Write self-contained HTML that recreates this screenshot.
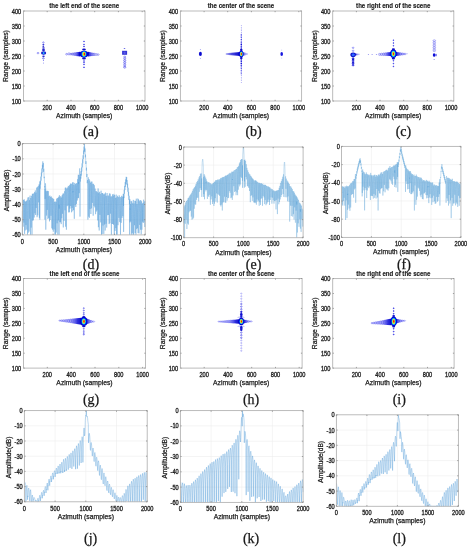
<!DOCTYPE html>
<html><head><meta charset="utf-8"><title>figure</title><style>html,body{margin:0;padding:0;background:#fff}svg{display:block}</style></head><body>
<svg width="471" height="550" viewBox="0 0 471 550">
<style>
.ax{fill:none;stroke:#b4b4b4;stroke-width:0.9}
.tk{fill:none;stroke:#8c8c8c;stroke-width:0.8}
.gr{stroke:#ededed;stroke-width:0.6}
.tl{font-family:"Liberation Sans",Arial,sans-serif;font-size:6.3px;fill:#1a1a1a;stroke:#222;stroke-width:0.3px}
.al{font-family:"Liberation Sans",Arial,sans-serif;font-size:6.8px;fill:#1a1a1a;stroke:#222;stroke-width:0.25px}
.ti{font-family:"Liberation Sans",Arial,sans-serif;font-size:7.1px;font-weight:bold;fill:#1a1a1a;stroke:#111;stroke-width:0.15px}
.lb{font-family:"Liberation Serif","Times New Roman",serif;font-size:14px;fill:#1a1a1a;stroke:#111;stroke-width:0.25px}
.ln{fill:none;stroke:#4f9bd6;stroke-width:0.38;stroke-linejoin:round}
.ln2{fill:none;stroke:#4a98d4;stroke-width:0.3;stroke-linejoin:round}
</style>
<rect width="471" height="550" fill="#fff"/>
<defs><filter id="soft" x="-20%" y="-20%" width="140%" height="140%"><feGaussianBlur stdDeviation="0.35"/></filter><linearGradient id="gD" x1="0" y1="0" x2="1" y2="0"><stop offset="0" stop-color="#4040e8" stop-opacity="0.45"/><stop offset="0.4" stop-color="#2020d8" stop-opacity="0.8"/><stop offset="1" stop-color="#0000c8" stop-opacity="1"/></linearGradient>
<linearGradient id="gL" x1="0" y1="0" x2="1" y2="0"><stop offset="0" stop-color="#5a5af0" stop-opacity="0.2"/><stop offset="0.55" stop-color="#3030e8" stop-opacity="0.4"/><stop offset="0.8" stop-color="#1414d8" stop-opacity="0.85"/><stop offset="1" stop-color="#0000c8" stop-opacity="1"/></linearGradient>
<linearGradient id="gR" x1="1" y1="0" x2="0" y2="0"><stop offset="0" stop-color="#5a5af0" stop-opacity="0.25"/><stop offset="0.5" stop-color="#3030e8" stop-opacity="0.5"/><stop offset="1" stop-color="#0000c8" stop-opacity="1"/></linearGradient></defs>
<g filter="url(#soft)">
<ellipse cx="43.4" cy="42.4" rx="0.80" ry="0.60" fill="none" stroke="#4848ee" stroke-width="0.5"/>
<ellipse cx="43.4" cy="44.4" rx="1.00" ry="0.75" fill="#3a3ad8"/>
<ellipse cx="43.3" cy="46.2" rx="0.90" ry="0.70" fill="#2a2ad0"/>
<ellipse cx="43.5" cy="48.0" rx="1.30" ry="0.80" fill="#2020cc"/>
<ellipse cx="43.5" cy="49.9" rx="1.60" ry="1.00" fill="#1c1cc8"/>
<ellipse cx="43.6" cy="53.0" rx="2.60" ry="1.70" fill="#1010cc"/>
<ellipse cx="43.6" cy="53.1" rx="1.00" ry="1.10" fill="#20b8ff"/>
<ellipse cx="38.0" cy="53.1" rx="0.90" ry="0.70" fill="none" stroke="#4848ee" stroke-width="0.5"/>
<ellipse cx="43.5" cy="56.3" rx="1.30" ry="0.80" fill="#2020cc"/>
<ellipse cx="43.4" cy="58.3" rx="0.90" ry="0.60" fill="none" stroke="#1818e0" stroke-width="0.5"/>
<ellipse cx="43.4" cy="60.3" rx="0.50" ry="0.45" fill="#1818e0"/>
<ellipse cx="43.4" cy="63.0" rx="0.45" ry="0.40" fill="#4848ee"/>
<ellipse cx="84.0" cy="41.4" rx="0.50" ry="0.45" fill="#1818e0" stroke="#1818e0" stroke-width="0.5"/>
<ellipse cx="84.0" cy="44.4" rx="0.50" ry="0.45" fill="#1818e0" stroke="#1818e0" stroke-width="0.5"/>
<ellipse cx="84.0" cy="46.5" rx="0.50" ry="0.45" fill="#1818e0" stroke="#1818e0" stroke-width="0.5"/>
<ellipse cx="84.0" cy="61.0" rx="0.50" ry="0.45" fill="#1818e0" stroke="#1818e0" stroke-width="0.5"/>
<ellipse cx="84.0" cy="62.6" rx="0.50" ry="0.45" fill="#1818e0" stroke="#1818e0" stroke-width="0.5"/>
<ellipse cx="84.0" cy="64.4" rx="0.50" ry="0.45" fill="#1818e0" stroke="#1818e0" stroke-width="0.5"/>
<ellipse cx="84.0" cy="67.3" rx="0.50" ry="0.45" fill="#1818e0" stroke="#1818e0" stroke-width="0.5"/>
<ellipse cx="66.6" cy="54.2" rx="0.90" ry="0.80" fill="none" stroke="#4848ee" stroke-width="0.5"/>
<ellipse cx="69.0" cy="53.9" rx="1.20" ry="1.00" fill="none" stroke="#4848ee" stroke-width="0.5"/>
<polygon points="70.5,53.2 80.0,51.8 80.0,56.4 70.5,55.0" fill="url(#gL)"/>
<ellipse cx="71.0" cy="54.1" rx="1.10" ry="0.90" fill="none" stroke="#1818e0" stroke-width="0.4" opacity="0.9"/>
<ellipse cx="73.0" cy="54.1" rx="1.10" ry="1.23" fill="none" stroke="#1818e0" stroke-width="0.4" opacity="0.9"/>
<ellipse cx="75.0" cy="54.1" rx="1.10" ry="1.57" fill="none" stroke="#1818e0" stroke-width="0.4" opacity="0.9"/>
<ellipse cx="77.0" cy="54.1" rx="1.10" ry="1.90" fill="none" stroke="#1818e0" stroke-width="0.4" opacity="0.9"/>
<polygon points="88.0,51.8 95.0,53.4 95.0,55.4 88.0,56.4" fill="url(#gR)"/>
<ellipse cx="90.0" cy="54.2" rx="1.10" ry="1.80" fill="none" stroke="#1818e0" stroke-width="0.4" opacity="0.9"/>
<ellipse cx="92.0" cy="54.3" rx="1.10" ry="1.55" fill="none" stroke="#1818e0" stroke-width="0.4" opacity="0.9"/>
<ellipse cx="94.0" cy="54.4" rx="1.10" ry="1.30" fill="none" stroke="#1818e0" stroke-width="0.4" opacity="0.9"/>
<ellipse cx="96.0" cy="54.5" rx="1.10" ry="1.05" fill="none" stroke="#1818e0" stroke-width="0.4" opacity="0.9"/>
<ellipse cx="98.0" cy="54.6" rx="1.10" ry="0.80" fill="none" stroke="#1818e0" stroke-width="0.4" opacity="0.9"/>
<ellipse cx="84.0" cy="49.5" rx="1.90" ry="0.90" fill="#0c0cc8"/>
<ellipse cx="84.0" cy="58.4" rx="1.90" ry="1.10" fill="#0c0cc8"/>
<ellipse cx="84.0" cy="54.1" rx="4.80" ry="3.40" fill="#0606d0"/>
<ellipse cx="84.0" cy="54.1" rx="2.60" ry="3.02" fill="#0060ff"/>
<ellipse cx="84.0" cy="54.1" rx="2.00" ry="2.70" fill="#10d0ff"/>
<ellipse cx="84.0" cy="54.1" rx="1.65" ry="2.35" fill="#80f080"/>
<ellipse cx="84.0" cy="54.1" rx="1.30" ry="2.00" fill="#f4ec10"/>
<ellipse cx="84.4" cy="54.1" rx="0.70" ry="1.50" fill="#f41c08"/>
<rect x="122.1" y="50.8" width="5" height="4" fill="#3434d4"/>
<ellipse cx="124.6" cy="52.8" rx="1.20" ry="1.20" fill="#5858e8"/>
<ellipse cx="124.5" cy="48.5" rx="1.00" ry="0.45" fill="#4a4ae0"/>
<ellipse cx="124.7" cy="57.0" rx="1.10" ry="0.80" fill="none" stroke="#3a3ae8" stroke-width="0.5"/>
<ellipse cx="124.7" cy="58.8" rx="1.10" ry="0.80" fill="none" stroke="#3a3ae8" stroke-width="0.5"/>
<ellipse cx="124.7" cy="60.6" rx="1.10" ry="0.80" fill="none" stroke="#3a3ae8" stroke-width="0.5"/>
<ellipse cx="124.7" cy="62.4" rx="1.10" ry="0.80" fill="none" stroke="#3a3ae8" stroke-width="0.5"/>
<ellipse cx="124.7" cy="64.2" rx="1.10" ry="0.80" fill="none" stroke="#3a3ae8" stroke-width="0.5"/>
<ellipse cx="124.7" cy="66.0" rx="1.10" ry="0.80" fill="none" stroke="#3a3ae8" stroke-width="0.5"/>
<ellipse cx="124.7" cy="67.4" rx="1.10" ry="0.80" fill="none" stroke="#3a3ae8" stroke-width="0.5"/>
</g>
<rect x="23.5" y="11" width="121.5" height="90" class="ax"/>
<path d="M47.2 101v-1.2M47.2 11v1.2" class="tk"/>
<text transform="translate(47.2 109.7) scale(0.9 1)" class="tl" text-anchor="middle">200</text>
<path d="M71 101v-1.2M71 11v1.2" class="tk"/>
<text transform="translate(71 109.7) scale(0.9 1)" class="tl" text-anchor="middle">400</text>
<path d="M94.7 101v-1.2M94.7 11v1.2" class="tk"/>
<text transform="translate(94.7 109.7) scale(0.9 1)" class="tl" text-anchor="middle">600</text>
<path d="M118.4 101v-1.2M118.4 11v1.2" class="tk"/>
<text transform="translate(118.4 109.7) scale(0.9 1)" class="tl" text-anchor="middle">800</text>
<path d="M142.2 101v-1.2M142.2 11v1.2" class="tk"/>
<text transform="translate(142.2 109.7) scale(0.9 1)" class="tl" text-anchor="middle">1000</text>
<path d="M23.5 101h1.2M145 101h-1.2" class="tk"/>
<text transform="translate(21.2 103.5) scale(0.9 1)" class="tl" text-anchor="end">100</text>
<path d="M23.5 86h1.2M145 86h-1.2" class="tk"/>
<text transform="translate(21.2 88.5) scale(0.9 1)" class="tl" text-anchor="end">150</text>
<path d="M23.5 71h1.2M145 71h-1.2" class="tk"/>
<text transform="translate(21.2 73.5) scale(0.9 1)" class="tl" text-anchor="end">200</text>
<path d="M23.5 56h1.2M145 56h-1.2" class="tk"/>
<text transform="translate(21.2 58.5) scale(0.9 1)" class="tl" text-anchor="end">250</text>
<path d="M23.5 41h1.2M145 41h-1.2" class="tk"/>
<text transform="translate(21.2 43.5) scale(0.9 1)" class="tl" text-anchor="end">300</text>
<path d="M23.5 26h1.2M145 26h-1.2" class="tk"/>
<text transform="translate(21.2 28.5) scale(0.9 1)" class="tl" text-anchor="end">350</text>
<path d="M23.5 11h1.2M145 11h-1.2" class="tk"/>
<text transform="translate(21.2 13.5) scale(0.9 1)" class="tl" text-anchor="end">400</text>
<text x="84.2" y="118" class="al" text-anchor="middle">Azimuth (samples)</text>
<text transform="translate(7.9 56) rotate(-90) scale(1.0 1)" class="al" text-anchor="middle">Range (samples)</text>
<text transform="translate(84.2 8.1) scale(0.86 1)" class="ti" text-anchor="middle">the left end of the scene</text>
<text x="90.8" y="135.8" class="lb" text-anchor="middle">(a)</text>
<g filter="url(#soft)">
<ellipse cx="200.4" cy="53.9" rx="1.50" ry="2.10" fill="#0c0cd0"/>
<ellipse cx="200.4" cy="49.4" rx="0.60" ry="0.40" fill="#7070f0"/>
<ellipse cx="200.4" cy="58.6" rx="0.60" ry="0.40" fill="#7070f0"/>
<ellipse cx="241.3" cy="25.6" rx="0.50" ry="0.45" fill="#1818e0" opacity="0.6"/>
<ellipse cx="241.3" cy="27.3" rx="0.50" ry="0.45" fill="#1818e0" opacity="0.6"/>
<ellipse cx="241.3" cy="29.0" rx="0.50" ry="0.45" fill="#1818e0" opacity="0.6"/>
<ellipse cx="241.3" cy="30.8" rx="0.50" ry="0.45" fill="#1818e0" opacity="0.6"/>
<ellipse cx="241.3" cy="32.5" rx="0.50" ry="0.45" fill="#1818e0" opacity="0.6"/>
<ellipse cx="241.3" cy="34.2" rx="0.65" ry="0.55" fill="#1818e0" opacity="0.9"/>
<ellipse cx="241.3" cy="35.9" rx="0.65" ry="0.55" fill="#1818e0" opacity="0.9"/>
<ellipse cx="241.3" cy="37.6" rx="0.65" ry="0.55" fill="#1818e0" opacity="0.9"/>
<ellipse cx="241.3" cy="39.4" rx="0.65" ry="0.55" fill="#1818e0" opacity="0.9"/>
<ellipse cx="241.3" cy="41.1" rx="0.65" ry="0.55" fill="#1818e0" opacity="0.9"/>
<ellipse cx="241.3" cy="42.8" rx="0.80" ry="0.65" fill="#1010d8"/>
<ellipse cx="241.3" cy="44.5" rx="0.80" ry="0.65" fill="#1010d8"/>
<ellipse cx="241.3" cy="46.2" rx="0.80" ry="0.65" fill="#1010d8"/>
<ellipse cx="241.3" cy="48.0" rx="0.80" ry="0.65" fill="#1010d8"/>
<ellipse cx="241.3" cy="49.7" rx="0.80" ry="0.65" fill="#1010d8"/>
<ellipse cx="241.3" cy="58.3" rx="0.80" ry="0.65" fill="#1010d8"/>
<ellipse cx="241.3" cy="60.0" rx="0.80" ry="0.65" fill="#1010d8"/>
<ellipse cx="241.3" cy="61.7" rx="0.80" ry="0.65" fill="#1010d8"/>
<ellipse cx="241.3" cy="63.4" rx="0.80" ry="0.65" fill="#1010d8"/>
<ellipse cx="241.3" cy="65.2" rx="0.80" ry="0.65" fill="#1010d8"/>
<ellipse cx="241.3" cy="66.9" rx="0.65" ry="0.55" fill="#1818e0" opacity="0.9"/>
<ellipse cx="241.3" cy="68.6" rx="0.65" ry="0.55" fill="#1818e0" opacity="0.9"/>
<ellipse cx="241.3" cy="70.3" rx="0.65" ry="0.55" fill="#1818e0" opacity="0.9"/>
<ellipse cx="241.3" cy="72.0" rx="0.65" ry="0.55" fill="#1818e0" opacity="0.9"/>
<ellipse cx="241.3" cy="73.8" rx="0.65" ry="0.55" fill="#1818e0" opacity="0.9"/>
<ellipse cx="241.3" cy="75.5" rx="0.50" ry="0.45" fill="#1818e0" opacity="0.6"/>
<ellipse cx="241.3" cy="77.2" rx="0.50" ry="0.45" fill="#1818e0" opacity="0.6"/>
<ellipse cx="241.3" cy="78.9" rx="0.50" ry="0.45" fill="#1818e0" opacity="0.6"/>
<ellipse cx="241.3" cy="80.6" rx="0.50" ry="0.45" fill="#1818e0" opacity="0.6"/>
<ellipse cx="241.3" cy="82.4" rx="0.50" ry="0.45" fill="#1818e0" opacity="0.6"/>
<polygon points="225.8,53.2 240.0,52.1 240.0,55.9 225.8,54.8" fill="url(#gD)"/>
<polygon points="242.0,52.1 248.0,53.3 248.0,54.7 242.0,55.9" fill="url(#gR)"/>
<ellipse cx="241.3" cy="50.0" rx="1.20" ry="1.30" fill="#0c0cc8"/>
<ellipse cx="241.3" cy="58.0" rx="1.20" ry="1.30" fill="#0c0cc8"/>
<ellipse cx="241.3" cy="54.0" rx="2.20" ry="3.20" fill="#0606d0"/>
<ellipse cx="241.3" cy="54.0" rx="1.56" ry="2.46" fill="#0060ff"/>
<ellipse cx="241.3" cy="54.0" rx="1.20" ry="2.20" fill="#10d0ff"/>
<ellipse cx="241.3" cy="54.0" rx="1.05" ry="2.00" fill="#80f080"/>
<ellipse cx="241.3" cy="54.0" rx="0.90" ry="1.80" fill="#f4ec10"/>
<ellipse cx="241.5" cy="54.0" rx="0.55" ry="1.00" fill="#f41c08"/>
<ellipse cx="281.7" cy="54.0" rx="1.30" ry="2.10" fill="#1616e0"/>
<ellipse cx="281.7" cy="50.0" rx="0.50" ry="0.35" fill="#7070f0"/>
<ellipse cx="281.7" cy="58.0" rx="0.50" ry="0.35" fill="#7070f0"/>
</g>
<rect x="180.4" y="11" width="121.2" height="90" class="ax"/>
<path d="M204.1 101v-1.2M204.1 11v1.2" class="tk"/>
<text transform="translate(204.1 109.7) scale(0.9 1)" class="tl" text-anchor="middle">200</text>
<path d="M227.7 101v-1.2M227.7 11v1.2" class="tk"/>
<text transform="translate(227.7 109.7) scale(0.9 1)" class="tl" text-anchor="middle">400</text>
<path d="M251.4 101v-1.2M251.4 11v1.2" class="tk"/>
<text transform="translate(251.4 109.7) scale(0.9 1)" class="tl" text-anchor="middle">600</text>
<path d="M275.1 101v-1.2M275.1 11v1.2" class="tk"/>
<text transform="translate(275.1 109.7) scale(0.9 1)" class="tl" text-anchor="middle">800</text>
<path d="M298.8 101v-1.2M298.8 11v1.2" class="tk"/>
<text transform="translate(298.8 109.7) scale(0.9 1)" class="tl" text-anchor="middle">1000</text>
<path d="M180.4 101h1.2M301.6 101h-1.2" class="tk"/>
<text transform="translate(178.1 103.5) scale(0.9 1)" class="tl" text-anchor="end">100</text>
<path d="M180.4 86h1.2M301.6 86h-1.2" class="tk"/>
<text transform="translate(178.1 88.5) scale(0.9 1)" class="tl" text-anchor="end">150</text>
<path d="M180.4 71h1.2M301.6 71h-1.2" class="tk"/>
<text transform="translate(178.1 73.5) scale(0.9 1)" class="tl" text-anchor="end">200</text>
<path d="M180.4 56h1.2M301.6 56h-1.2" class="tk"/>
<text transform="translate(178.1 58.5) scale(0.9 1)" class="tl" text-anchor="end">250</text>
<path d="M180.4 41h1.2M301.6 41h-1.2" class="tk"/>
<text transform="translate(178.1 43.5) scale(0.9 1)" class="tl" text-anchor="end">300</text>
<path d="M180.4 26h1.2M301.6 26h-1.2" class="tk"/>
<text transform="translate(178.1 28.5) scale(0.9 1)" class="tl" text-anchor="end">350</text>
<path d="M180.4 11h1.2M301.6 11h-1.2" class="tk"/>
<text transform="translate(178.1 13.5) scale(0.9 1)" class="tl" text-anchor="end">400</text>
<text x="241" y="118" class="al" text-anchor="middle">Azimuth (samples)</text>
<text transform="translate(164.8 56) rotate(-90) scale(1.0 1)" class="al" text-anchor="middle">Range (samples)</text>
<text transform="translate(241 8.1) scale(0.86 1)" class="ti" text-anchor="middle">the center of the scene</text>
<text x="253.6" y="135.8" class="lb" text-anchor="middle">(b)</text>
<g filter="url(#soft)">
<ellipse cx="353.1" cy="47.8" rx="0.90" ry="0.60" fill="none" stroke="#4848ee" stroke-width="0.5"/>
<ellipse cx="353.1" cy="50.8" rx="0.90" ry="0.60" fill="none" stroke="#4848ee" stroke-width="0.5"/>
<ellipse cx="353.1" cy="58.4" rx="1.00" ry="0.75" fill="#5050e4" stroke="#2020d8" stroke-width="0.5"/>
<ellipse cx="353.1" cy="60.2" rx="1.00" ry="0.75" fill="#5050e4" stroke="#2020d8" stroke-width="0.5"/>
<ellipse cx="353.1" cy="62.0" rx="1.00" ry="0.75" fill="#5050e4" stroke="#2020d8" stroke-width="0.5"/>
<ellipse cx="353.1" cy="63.7" rx="1.00" ry="0.75" fill="#5050e4" stroke="#2020d8" stroke-width="0.5"/>
<ellipse cx="353.1" cy="65.2" rx="1.00" ry="0.75" fill="#5050e4" stroke="#2020d8" stroke-width="0.5"/>
<ellipse cx="353.1" cy="59.3" rx="1.20" ry="0.90" fill="#1818d0"/>
<ellipse cx="353.1" cy="62.6" rx="1.10" ry="0.90" fill="#2020d0"/>
<polygon points="355.0,53.5 359.8,53.8 359.8,55.0 355.0,55.5" fill="url(#gR)"/>
<ellipse cx="353.1" cy="54.8" rx="2.70" ry="2.40" fill="#0c0cc8"/>
<ellipse cx="353.2" cy="54.8" rx="1.60" ry="1.50" fill="#2a64ff"/>
<ellipse cx="368.3" cy="54.7" rx="0.45" ry="0.40" fill="#1818e0"/>
<ellipse cx="372.1" cy="54.7" rx="0.45" ry="0.40" fill="#1818e0"/>
<ellipse cx="376.3" cy="54.7" rx="0.45" ry="0.40" fill="#1818e0"/>
<polygon points="379.0,53.4 391.0,51.9 391.0,56.1 379.0,55.4" fill="url(#gL)"/>
<ellipse cx="379.5" cy="54.4" rx="1.17" ry="1.00" fill="none" stroke="#4848ee" stroke-width="0.4" opacity="0.9"/>
<ellipse cx="381.6" cy="54.3" rx="1.17" ry="1.18" fill="none" stroke="#4848ee" stroke-width="0.4" opacity="0.9"/>
<ellipse cx="383.8" cy="54.2" rx="1.17" ry="1.35" fill="none" stroke="#4848ee" stroke-width="0.4" opacity="0.9"/>
<ellipse cx="385.9" cy="54.2" rx="1.17" ry="1.52" fill="none" stroke="#4848ee" stroke-width="0.4" opacity="0.9"/>
<ellipse cx="388.0" cy="54.1" rx="1.17" ry="1.70" fill="none" stroke="#4848ee" stroke-width="0.4" opacity="0.9"/>
<polygon points="396.0,52.0 405.5,53.3 405.5,54.7 396.0,56.0" fill="url(#gR)"/>
<ellipse cx="398.0" cy="54.0" rx="1.28" ry="1.50" fill="none" stroke="#4848ee" stroke-width="0.4" opacity="0.9"/>
<ellipse cx="400.3" cy="54.0" rx="1.28" ry="1.23" fill="none" stroke="#4848ee" stroke-width="0.4" opacity="0.9"/>
<ellipse cx="402.7" cy="54.0" rx="1.28" ry="0.97" fill="none" stroke="#4848ee" stroke-width="0.4" opacity="0.9"/>
<ellipse cx="405.0" cy="54.0" rx="1.28" ry="0.70" fill="none" stroke="#4848ee" stroke-width="0.4" opacity="0.9"/>
<ellipse cx="407.0" cy="53.8" rx="0.45" ry="0.35" fill="#1818e0"/>
<ellipse cx="393.4" cy="40.2" rx="0.45" ry="0.40" fill="#1818e0" stroke="#1818e0" stroke-width="0.5"/>
<ellipse cx="393.4" cy="43.0" rx="0.45" ry="0.40" fill="#1818e0" stroke="#1818e0" stroke-width="0.5"/>
<ellipse cx="393.4" cy="45.8" rx="0.45" ry="0.40" fill="#1818e0" stroke="#1818e0" stroke-width="0.5"/>
<ellipse cx="393.4" cy="60.8" rx="0.45" ry="0.40" fill="#1818e0" stroke="#1818e0" stroke-width="0.5"/>
<ellipse cx="393.4" cy="63.6" rx="0.45" ry="0.40" fill="#1818e0" stroke="#1818e0" stroke-width="0.5"/>
<ellipse cx="393.4" cy="66.4" rx="0.45" ry="0.40" fill="#1818e0" stroke="#1818e0" stroke-width="0.5"/>
<ellipse cx="393.4" cy="49.2" rx="1.60" ry="1.00" fill="#0c0cc8"/>
<ellipse cx="393.4" cy="58.6" rx="1.60" ry="1.00" fill="#0c0cc8"/>
<ellipse cx="393.4" cy="53.8" rx="3.20" ry="4.20" fill="#0606d0"/>
<ellipse cx="393.4" cy="53.8" rx="2.34" ry="3.25" fill="#0060ff"/>
<ellipse cx="393.4" cy="53.8" rx="1.80" ry="2.90" fill="#10d0ff"/>
<ellipse cx="393.4" cy="53.8" rx="1.50" ry="2.45" fill="#80f080"/>
<ellipse cx="393.4" cy="53.8" rx="1.20" ry="2.00" fill="#f4ec10"/>
<ellipse cx="393.5" cy="53.8" rx="0.60" ry="1.40" fill="#f41c08"/>
<ellipse cx="434.3" cy="40.6" rx="1.30" ry="0.80" fill="none" stroke="#7070f0" stroke-width="0.55"/>
<ellipse cx="434.3" cy="42.3" rx="1.30" ry="0.80" fill="none" stroke="#7070f0" stroke-width="0.55"/>
<ellipse cx="434.3" cy="44.0" rx="1.30" ry="0.80" fill="none" stroke="#7070f0" stroke-width="0.55"/>
<ellipse cx="434.3" cy="45.7" rx="1.30" ry="0.80" fill="none" stroke="#7070f0" stroke-width="0.55"/>
<ellipse cx="434.3" cy="47.4" rx="1.30" ry="0.80" fill="none" stroke="#7070f0" stroke-width="0.55"/>
<ellipse cx="434.3" cy="49.1" rx="1.30" ry="0.80" fill="none" stroke="#7070f0" stroke-width="0.55"/>
<ellipse cx="434.3" cy="50.8" rx="1.30" ry="0.80" fill="none" stroke="#7070f0" stroke-width="0.55"/>
<ellipse cx="434.1" cy="55.1" rx="1.30" ry="1.80" fill="#1010d8"/>
<ellipse cx="436.0" cy="55.1" rx="0.80" ry="1.40" fill="#6060e8"/>
<ellipse cx="434.1" cy="59.4" rx="0.50" ry="0.40" fill="#1818e0"/>
</g>
<rect x="332.7" y="11" width="121.1" height="90" class="ax"/>
<path d="M356.4 101v-1.2M356.4 11v1.2" class="tk"/>
<text transform="translate(356.4 109.7) scale(0.9 1)" class="tl" text-anchor="middle">200</text>
<path d="M380 101v-1.2M380 11v1.2" class="tk"/>
<text transform="translate(380 109.7) scale(0.9 1)" class="tl" text-anchor="middle">400</text>
<path d="M403.7 101v-1.2M403.7 11v1.2" class="tk"/>
<text transform="translate(403.7 109.7) scale(0.9 1)" class="tl" text-anchor="middle">600</text>
<path d="M427.3 101v-1.2M427.3 11v1.2" class="tk"/>
<text transform="translate(427.3 109.7) scale(0.9 1)" class="tl" text-anchor="middle">800</text>
<path d="M451 101v-1.2M451 11v1.2" class="tk"/>
<text transform="translate(451 109.7) scale(0.9 1)" class="tl" text-anchor="middle">1000</text>
<path d="M332.7 101h1.2M453.8 101h-1.2" class="tk"/>
<text transform="translate(330.4 103.5) scale(0.9 1)" class="tl" text-anchor="end">100</text>
<path d="M332.7 86h1.2M453.8 86h-1.2" class="tk"/>
<text transform="translate(330.4 88.5) scale(0.9 1)" class="tl" text-anchor="end">150</text>
<path d="M332.7 71h1.2M453.8 71h-1.2" class="tk"/>
<text transform="translate(330.4 73.5) scale(0.9 1)" class="tl" text-anchor="end">200</text>
<path d="M332.7 56h1.2M453.8 56h-1.2" class="tk"/>
<text transform="translate(330.4 58.5) scale(0.9 1)" class="tl" text-anchor="end">250</text>
<path d="M332.7 41h1.2M453.8 41h-1.2" class="tk"/>
<text transform="translate(330.4 43.5) scale(0.9 1)" class="tl" text-anchor="end">300</text>
<path d="M332.7 26h1.2M453.8 26h-1.2" class="tk"/>
<text transform="translate(330.4 28.5) scale(0.9 1)" class="tl" text-anchor="end">350</text>
<path d="M332.7 11h1.2M453.8 11h-1.2" class="tk"/>
<text transform="translate(330.4 13.5) scale(0.9 1)" class="tl" text-anchor="end">400</text>
<text x="393.2" y="118" class="al" text-anchor="middle">Azimuth (samples)</text>
<text transform="translate(317.1 56) rotate(-90) scale(1.0 1)" class="al" text-anchor="middle">Range (samples)</text>
<text transform="translate(393.2 8.1) scale(0.86 1)" class="ti" text-anchor="middle">the right end of the scene</text>
<text x="403.4" y="135.8" class="lb" text-anchor="middle">(c)</text>
<line x1="53.1" y1="143.6" x2="53.1" y2="234.9" class="gr"/>
<line x1="83.8" y1="143.6" x2="83.8" y2="234.9" class="gr"/>
<line x1="114.5" y1="143.6" x2="114.5" y2="234.9" class="gr"/>
<line x1="22.4" y1="158.8" x2="145.2" y2="158.8" class="gr"/>
<line x1="22.4" y1="174" x2="145.2" y2="174" class="gr"/>
<line x1="22.4" y1="189.2" x2="145.2" y2="189.2" class="gr"/>
<line x1="22.4" y1="204.5" x2="145.2" y2="204.5" class="gr"/>
<line x1="22.4" y1="219.7" x2="145.2" y2="219.7" class="gr"/>
<polyline points="22.4,211.2 22.4,234.9 22.5,213.7 22.6,203.2 22.8,200.3 22.9,203.0 23.1,213.3 23.2,226.7 23.3,209.3 23.4,202.0 23.5,199.9 23.7,201.8 23.8,209.1 23.9,222.6 24.0,207.5 24.1,201.1 24.2,199.3 24.4,201.0 24.5,207.3 24.6,233.9 24.7,212.5 24.8,203.5 25.0,201.0 25.1,203.3 25.3,212.3 25.3,230.4 25.4,211.9 25.5,204.0 25.6,201.9 25.8,203.9 25.9,211.7 26.0,225.1 26.1,209.5 26.3,202.9 26.4,201.1 26.6,202.8 26.7,209.4 26.7,229.6 26.8,210.3 26.9,202.2 27.1,199.9 27.2,202.1 27.3,210.2 27.5,234.9 27.6,210.8 27.7,200.4 27.9,197.5 28.0,200.3 28.2,210.6 28.3,232.7 28.4,209.6 28.6,199.8 28.7,197.2 28.9,199.8 29.0,209.5 29.1,231.5 29.2,211.2 29.3,202.6 29.4,200.1 29.6,202.3 29.7,218.8 29.7,210.8 29.8,203.9 29.9,197.5 30.1,195.6 30.2,197.1 30.3,203.4 30.5,234.9 30.6,211.4 30.7,200.9 30.8,198.0 31.0,200.6 31.1,210.8 31.2,227.6 31.3,207.0 31.4,198.3 31.5,195.8 31.7,198.0 31.8,206.7 32.0,234.9 32.1,207.0 32.2,196.5 32.4,193.7 32.5,196.4 32.6,220.6 32.6,206.7 32.7,203.3 32.8,196.0 33.0,194.0 33.1,195.8 33.3,203.1 33.4,220.3 33.5,202.8 33.7,195.4 33.8,193.3 33.9,195.2 34.1,202.6 34.2,217.5 34.3,201.3 34.4,194.2 34.6,192.1 34.7,193.8 34.9,200.6 34.9,213.3 35.0,198.7 35.1,192.4 35.3,190.4 35.4,191.9 35.6,198.0 35.6,215.0 35.7,200.7 35.8,194.5 36.0,192.6 36.1,194.0 36.2,208.0 36.3,200.1 36.3,195.1 36.5,189.4 36.6,187.7 36.8,188.9 36.9,194.4 37.1,217.2 37.2,197.9 37.3,189.6 37.4,187.1 37.6,189.0 37.7,197.2 37.8,215.3 37.9,196.5 38.1,188.4 38.2,186.0 38.4,187.9 38.5,195.8 38.6,202.4 38.7,191.0 38.8,186.0 39.0,184.4 39.1,185.4 39.3,190.3 39.4,217.8 39.5,195.2 39.7,185.0 39.8,181.4 39.8,219.7 39.9,184.7 40.1,188.7 40.4,180.6 40.6,184.7 40.9,176.6 41.1,180.6 41.4,172.5 41.6,176.6 41.9,168.5 42.1,172.7 42.4,164.8 42.6,169.1 42.8,161.4 43.1,167.5 43.3,163.0 43.6,171.8 43.8,168.7 44.1,178.2 44.3,176.7 44.6,187.4 44.8,186.2 44.9,219.7 45.0,188.7 45.1,199.1 45.2,187.3 45.3,183.4 45.5,183.4 45.6,185.7 45.8,190.3 45.8,229.7 45.9,202.3 46.0,193.0 46.1,190.8 46.3,193.9 46.4,204.5 46.6,215.6 46.7,199.4 46.8,192.9 46.9,191.3 47.1,193.4 47.2,200.1 47.3,209.9 47.3,197.1 47.5,192.0 47.6,190.8 47.8,192.5 47.9,197.8 47.9,219.0 48.0,200.4 48.2,192.9 48.3,191.1 48.5,193.5 48.6,201.2 48.7,218.1 48.8,203.4 48.9,197.5 49.1,196.2 49.2,198.1 49.4,204.2 49.5,221.4 49.6,204.4 49.7,197.4 49.9,195.6 50.0,197.6 50.2,204.7 50.2,220.0 50.3,204.8 50.5,198.5 50.6,196.9 50.8,198.7 50.9,205.1 51.0,215.8 51.1,203.1 51.2,197.8 51.4,196.5 51.5,198.0 51.6,203.3 51.8,228.3 51.9,208.2 52.0,199.9 52.2,197.8 52.3,200.3 52.4,208.7 52.5,229.6 52.6,209.0 52.7,200.5 52.9,198.4 53.0,200.9 53.1,209.5 53.3,231.7 53.4,210.1 53.5,201.2 53.7,199.0 53.8,201.6 54.0,210.6 54.1,229.4 54.2,211.2 54.3,203.7 54.5,201.8 54.6,203.7 54.8,211.2 54.9,234.9 54.9,213.5 55.1,204.1 55.2,201.5 55.4,203.9 55.5,213.2 55.6,234.9 55.7,215.2 55.8,204.7 56.0,201.8 56.1,204.5 56.2,232.5 56.2,214.8 56.3,210.6 56.5,201.3 56.6,198.7 56.8,201.1 56.9,210.3 57.1,223.3 57.1,207.0 57.3,200.1 57.4,198.1 57.6,199.9 57.7,206.7 57.8,234.9 57.9,211.1 58.0,200.6 58.2,197.7 58.3,200.4 58.4,220.4 58.4,210.7 58.5,205.1 58.6,198.6 58.8,196.7 58.9,198.4 59.1,234.9 59.1,204.8 59.2,208.6 59.3,198.1 59.4,195.2 59.6,197.9 59.7,208.2 59.8,222.2 59.9,206.1 60.0,199.2 60.1,197.3 60.3,199.0 60.4,205.8 60.5,222.3 60.6,205.3 60.7,198.0 60.8,196.0 61.0,197.8 61.1,205.0 61.2,224.1 61.3,206.9 61.4,199.6 61.6,197.5 61.7,199.4 61.8,218.3 61.8,206.6 61.9,203.4 62.1,197.1 62.2,195.1 62.4,196.6 62.5,213.8 62.5,202.8 62.6,201.0 62.7,195.5 62.8,193.7 63.0,195.0 63.1,200.4 63.3,227.4 63.4,205.6 63.5,196.3 63.6,193.5 63.8,195.8 63.9,205.0 64.1,220.9 64.2,201.9 64.3,193.7 64.5,191.3 64.6,193.2 64.7,201.2 64.9,210.3 65.0,195.8 65.1,189.5 65.3,187.7 65.4,189.1 65.6,195.3 65.6,226.7 65.7,201.2 65.8,190.6 65.9,187.6 66.1,190.2 66.2,200.4 66.4,229.7 66.5,202.1 66.6,191.5 66.8,188.5 66.9,191.1 67.1,201.4 67.2,206.2 67.3,194.2 67.4,189.0 67.6,187.5 67.7,188.7 67.8,193.8 68.0,205.4 68.1,192.9 68.2,187.5 68.3,185.9 68.5,187.2 68.6,192.4 68.7,212.4 68.8,195.7 68.9,188.5 69.1,186.4 69.2,188.1 69.3,195.2 69.4,212.2 69.4,194.7 69.6,187.2 69.7,185.0 69.9,187.0 70.0,194.4 70.0,208.6 70.1,192.5 70.2,185.7 70.4,183.8 70.5,185.6 70.7,206.0 70.7,192.3 70.7,191.3 70.9,185.1 71.0,183.4 71.2,185.0 71.3,191.2 71.5,212.3 71.6,193.9 71.7,186.2 71.8,184.0 72.0,186.0 72.1,193.8 72.2,207.9 72.3,191.3 72.4,184.3 72.6,182.4 72.7,184.2 72.8,211.3 72.9,191.1 72.9,192.4 73.1,184.4 73.2,182.3 73.4,184.5 73.5,192.5 73.6,210.0 73.7,193.5 73.8,186.7 73.9,184.9 74.1,186.8 74.2,193.7 74.3,218.8 74.4,195.3 74.6,185.5 74.7,182.9 74.9,185.6 75.0,195.5 75.2,205.2 75.3,191.4 75.4,185.6 75.5,184.2 75.7,185.8 75.8,207.0 75.8,191.6 75.9,191.6 76.0,185.2 76.2,183.5 76.3,185.3 76.4,191.7 76.5,203.9 76.5,191.3 76.7,185.3 76.8,183.1 77.0,184.0 77.1,189.4 77.3,200.5 77.4,187.5 77.5,181.4 77.6,179.2 77.8,180.1 77.9,198.3 77.9,185.7 78.0,183.8 78.1,177.2 78.3,174.7 78.4,175.8 78.5,197.9 78.6,182.0 78.6,183.9 78.8,177.4 78.9,175.0 79.1,176.1 79.2,182.2 79.3,193.2 79.4,177.8 79.5,170.9 79.7,168.4 79.8,169.7 80.0,176.2 80.0,216.6 80.1,177.1 80.4,181.6 80.6,174.0 80.9,178.6 81.1,171.0 81.3,175.6 81.6,167.4 81.8,171.5 82.1,163.4 82.3,167.4 82.6,159.3 82.8,163.4 83.1,155.3 83.3,159.1 83.6,150.6 83.8,154.3 84.0,146.6 84.3,151.2 84.5,143.6 84.8,152.1 85.0,148.5 85.3,157.4 85.5,154.6 85.8,164.0 86.0,161.2 86.3,170.5 86.5,167.7 86.7,177.1 87.0,174.0 87.2,183.2 87.5,180.1 87.7,188.6 87.9,219.7 87.9,201.1 88.0,185.1 88.2,178.8 88.3,177.3 88.4,179.2 88.6,185.8 88.7,216.7 88.8,191.9 88.9,181.6 89.1,179.0 89.2,182.0 89.4,192.3 89.4,217.8 89.5,193.2 89.6,183.0 89.7,180.5 89.9,183.4 90.0,193.6 90.1,209.1 90.2,191.7 90.4,184.5 90.5,182.7 90.7,184.8 90.8,192.1 90.9,214.0 91.0,192.5 91.1,183.7 91.2,181.6 91.4,184.2 91.5,193.1 91.6,208.4 91.7,190.6 91.8,183.3 92.0,181.6 92.1,183.8 92.2,191.2 92.4,202.9 92.5,190.1 92.6,184.9 92.8,183.7 92.9,185.3 93.0,190.7 93.2,215.7 93.3,194.6 93.4,186.0 93.6,183.9 93.7,186.5 93.8,195.3 94.0,205.9 94.1,192.0 94.2,186.4 94.3,185.2 94.5,187.0 94.6,192.7 94.8,207.4 94.9,194.8 95.0,189.7 95.2,188.6 95.3,190.2 95.5,195.5 95.6,214.2 95.7,198.9 95.8,192.8 95.9,191.2 96.1,192.9 96.2,199.3 96.3,211.6 96.4,198.2 96.5,192.7 96.7,191.3 96.8,192.8 97.0,198.4 97.0,210.4 97.1,198.4 97.3,193.5 97.4,192.3 97.6,193.7 97.7,198.7 97.7,220.4 97.8,199.4 98.0,190.7 98.1,188.4 98.3,190.9 98.4,199.7 98.4,227.2 98.5,204.6 98.6,195.3 98.8,192.8 98.9,195.4 99.0,204.9 99.2,230.5 99.3,204.9 99.4,194.6 99.6,191.8 99.7,194.7 99.8,205.2 99.9,214.9 99.9,201.2 100.1,195.5 100.2,194.0 100.4,195.6 100.5,201.4 100.7,222.4 100.8,201.6 100.9,193.0 101.1,190.7 101.2,193.1 101.3,201.8 101.5,234.9 101.6,206.2 101.7,195.8 101.9,193.0 102.0,195.9 102.2,206.3 102.2,234.0 102.3,206.2 102.4,195.8 102.6,193.0 102.7,195.9 102.8,206.3 103.0,225.5 103.1,205.1 103.2,196.6 103.4,194.3 103.5,196.7 103.7,205.2 103.8,233.9 103.9,206.7 104.0,196.3 104.2,193.5 104.3,196.4 104.5,224.5 104.5,206.8 104.5,204.8 104.7,196.6 104.8,194.4 105.0,196.6 105.1,204.9 105.2,230.5 105.2,205.7 105.4,195.3 105.5,192.6 105.7,195.4 105.8,205.8 106.0,223.8 106.1,205.5 106.2,197.8 106.3,195.8 106.5,197.9 106.6,205.6 106.7,227.6 106.8,204.9 107.0,195.5 107.1,193.0 107.2,195.6 107.4,205.1 107.6,215.2 107.7,202.3 107.8,197.0 107.9,195.6 108.1,197.1 108.2,202.4 108.4,215.0 108.5,202.3 108.6,196.9 108.7,195.6 108.9,197.0 109.0,202.4 109.1,224.1 109.1,204.0 109.3,195.6 109.4,193.4 109.6,195.7 109.7,204.1 109.9,223.2 109.9,203.9 110.1,195.8 110.2,193.7 110.4,195.9 110.5,204.0 110.6,213.7 110.7,202.5 110.8,197.8 110.9,196.6 111.1,197.9 111.2,202.6 111.4,234.9 111.4,209.5 111.6,199.1 111.7,196.3 111.9,199.2 112.0,209.6 112.1,224.0 112.2,204.6 112.4,196.4 112.5,194.3 112.7,196.5 112.8,204.6 112.8,224.0 112.9,205.5 113.0,197.7 113.2,195.6 113.3,197.7 113.4,205.5 113.5,224.7 113.6,204.6 113.7,196.2 113.9,193.9 114.0,196.2 114.1,204.6 114.3,234.9 114.3,208.2 114.5,197.8 114.6,195.0 114.8,197.9 114.9,208.3 115.1,230.9 115.2,209.3 115.3,200.2 115.5,197.8 115.6,200.2 115.7,209.3 115.8,228.1 115.9,206.2 116.0,197.0 116.2,194.6 116.3,197.1 116.5,206.3 116.5,234.9 116.6,210.4 116.7,200.0 116.9,197.3 117.0,200.1 117.1,210.4 117.2,234.9 117.3,209.0 117.4,198.6 117.6,195.8 117.7,198.6 117.9,209.1 118.0,225.2 118.1,206.8 118.3,199.1 118.4,197.1 118.6,199.1 118.7,206.8 118.9,217.9 118.9,203.1 119.1,196.9 119.2,195.3 119.4,197.0 119.5,203.2 119.7,222.1 119.8,205.6 119.9,198.8 120.1,196.9 120.2,198.8 120.4,205.7 120.5,234.9 120.6,210.4 120.8,200.0 120.9,197.3 121.1,200.1 121.2,210.4 121.2,222.8 121.3,205.5 121.5,198.0 121.6,195.8 121.8,197.6 121.9,204.9 122.0,218.1 122.1,204.4 122.2,198.4 122.4,196.6 122.5,198.0 122.6,203.8 122.8,216.2 122.9,202.4 123.1,196.2 123.2,193.9 123.4,195.0 123.5,205.9 123.5,200.9 123.6,196.8 123.6,231.9 123.7,193.8 124.0,197.9 124.2,189.8 124.4,193.8 124.7,185.9 124.9,190.1 125.2,182.1 125.4,186.8 125.7,179.4 125.9,184.2 126.2,176.8 126.4,181.6 126.7,177.1 126.9,184.7 127.1,180.1 127.4,187.7 127.6,183.7 127.9,191.8 128.1,187.7 128.4,195.8 128.6,191.8 128.9,199.9 129.1,195.8 129.4,204.2 129.6,200.1 129.6,234.9 129.8,199.0 129.9,201.6 130.0,222.4 130.1,208.6 130.1,209.5 130.3,204.7 130.4,204.1 130.6,205.4 130.7,221.5 130.7,210.4 130.8,208.1 130.9,202.5 131.1,200.9 131.2,202.4 131.3,208.0 131.4,234.9 131.5,214.7 131.6,204.2 131.8,201.4 131.9,204.1 132.1,214.5 132.2,233.0 132.3,213.7 132.4,205.5 132.5,203.3 132.7,205.4 132.8,213.6 133.0,234.9 133.1,213.2 133.2,202.8 133.3,199.9 133.5,202.7 133.6,213.0 133.7,234.9 133.8,216.7 133.9,206.2 134.0,203.4 134.2,206.1 134.3,216.5 134.5,225.2 134.6,209.3 134.7,202.6 134.8,200.8 135.0,202.6 135.1,209.3 135.2,233.0 135.3,212.0 135.5,203.2 135.6,200.9 135.7,203.2 135.9,212.0 135.9,234.9 136.0,211.9 136.1,201.5 136.3,198.7 136.4,201.5 136.6,211.9 136.7,229.1 136.7,212.7 136.9,205.8 137.0,204.0 137.2,205.8 137.3,212.7 137.4,228.2 137.5,208.8 137.7,200.6 137.8,198.5 138.0,200.6 138.1,208.8 138.1,233.1 138.2,211.1 138.4,201.9 138.5,199.4 138.6,201.9 138.8,211.1 139.0,233.4 139.0,212.4 139.2,203.6 139.3,201.2 139.5,203.6 139.6,212.4 139.7,224.9 139.8,208.7 140.0,201.9 140.1,200.0 140.2,201.9 140.4,208.7 140.5,229.7 140.6,210.6 140.7,202.6 140.9,200.4 141.0,202.6 141.2,210.6 141.2,234.4 141.3,212.8 141.4,203.7 141.6,201.3 141.7,203.7 141.9,212.8 141.9,229.7 142.0,212.7 142.1,205.6 142.3,203.7 142.4,205.6 142.5,221.7 142.6,212.7 142.6,209.5 142.8,204.3 142.9,202.9 143.1,204.3 143.2,209.5 143.2,223.0 143.3,207.8 143.5,201.4 143.6,199.7 143.8,201.4 143.9,207.8 144.0,222.2 144.1,208.6 144.2,202.9 144.4,201.4 144.5,202.9 144.7,208.6 144.8,227.0 144.9,210.0 145.0,202.9 145.2,200.9" class="ln"/>
<rect x="22.4" y="143.6" width="122.8" height="91.3" class="ax"/>
<path d="M22.4 234.9v-1.2M22.4 143.6v1.2" class="tk"/>
<text transform="translate(22.4 243.6) scale(0.9 1)" class="tl" text-anchor="middle">0</text>
<path d="M53.1 234.9v-1.2M53.1 143.6v1.2" class="tk"/>
<text transform="translate(53.1 243.6) scale(0.9 1)" class="tl" text-anchor="middle">500</text>
<path d="M83.8 234.9v-1.2M83.8 143.6v1.2" class="tk"/>
<text transform="translate(83.8 243.6) scale(0.9 1)" class="tl" text-anchor="middle">1000</text>
<path d="M114.5 234.9v-1.2M114.5 143.6v1.2" class="tk"/>
<text transform="translate(114.5 243.6) scale(0.9 1)" class="tl" text-anchor="middle">1500</text>
<path d="M145.2 234.9v-1.2M145.2 143.6v1.2" class="tk"/>
<text transform="translate(145.2 243.6) scale(0.9 1)" class="tl" text-anchor="middle">2000</text>
<path d="M22.4 143.6h1.2M145.2 143.6h-1.2" class="tk"/>
<text transform="translate(20.7 146.1) scale(0.9 1)" class="tl" text-anchor="end">0</text>
<path d="M22.4 158.8h1.2M145.2 158.8h-1.2" class="tk"/>
<text transform="translate(20.7 161.3) scale(0.9 1)" class="tl" text-anchor="end">-10</text>
<path d="M22.4 174h1.2M145.2 174h-1.2" class="tk"/>
<text transform="translate(20.7 176.5) scale(0.9 1)" class="tl" text-anchor="end">-20</text>
<path d="M22.4 189.2h1.2M145.2 189.2h-1.2" class="tk"/>
<text transform="translate(20.7 191.8) scale(0.9 1)" class="tl" text-anchor="end">-30</text>
<path d="M22.4 204.5h1.2M145.2 204.5h-1.2" class="tk"/>
<text transform="translate(20.7 207) scale(0.9 1)" class="tl" text-anchor="end">-40</text>
<path d="M22.4 219.7h1.2M145.2 219.7h-1.2" class="tk"/>
<text transform="translate(20.7 222.2) scale(0.9 1)" class="tl" text-anchor="end">-50</text>
<path d="M22.4 234.9h1.2M145.2 234.9h-1.2" class="tk"/>
<text transform="translate(20.7 237.4) scale(0.9 1)" class="tl" text-anchor="end">-60</text>
<text x="83.8" y="251.9" class="al" text-anchor="middle">Azimuth (samples)</text>
<text transform="translate(9.1 190.4) rotate(-90) scale(0.97 1)" class="al" text-anchor="middle">Amplitude(dB)</text>
<text x="91" y="268.8" class="lb" text-anchor="middle">(d)</text>
<line x1="213.6" y1="147" x2="213.6" y2="237.7" class="gr"/>
<line x1="243.4" y1="147" x2="243.4" y2="237.7" class="gr"/>
<line x1="273.2" y1="147" x2="273.2" y2="237.7" class="gr"/>
<line x1="183.7" y1="165.1" x2="303.1" y2="165.1" class="gr"/>
<line x1="183.7" y1="183.3" x2="303.1" y2="183.3" class="gr"/>
<line x1="183.7" y1="201.4" x2="303.1" y2="201.4" class="gr"/>
<line x1="183.7" y1="219.6" x2="303.1" y2="219.6" class="gr"/>
<polyline points="183.8,214.3 183.8,223.1 183.9,212.5 184.1,207.8 184.2,206.3 184.3,207.3 184.5,211.8 184.6,237.7 184.7,213.3 184.9,206.9 185.0,204.9 185.2,206.3 185.3,212.2 185.3,223.8 185.4,210.3 185.5,204.4 185.7,202.5 185.8,203.8 185.9,209.6 186.1,219.7 186.2,207.8 186.3,202.6 186.5,201.0 186.6,202.1 186.8,207.1 186.9,229.0 187.0,208.2 187.1,201.8 187.3,199.8 187.4,201.3 187.6,207.3 187.7,223.5 187.8,206.4 188.0,200.0 188.1,198.1 188.2,199.5 188.4,205.5 188.4,224.6 188.5,205.8 188.6,199.4 188.8,197.6 188.9,199.0 189.0,205.0 189.1,212.3 189.1,202.1 189.3,197.7 189.4,196.3 189.6,197.3 189.7,201.6 189.9,211.0 190.0,200.8 190.1,196.4 190.2,195.0 190.4,196.0 190.5,200.3 190.5,210.6 190.6,199.9 190.8,195.3 190.9,193.9 191.0,194.8 191.2,199.3 191.3,216.6 191.4,201.1 191.5,194.6 191.7,192.7 191.8,194.1 191.9,200.0 192.0,219.8 192.1,199.2 192.3,192.7 192.4,190.8 192.5,192.1 192.7,198.1 192.9,218.9 192.9,197.5 193.1,191.1 193.2,189.1 193.4,190.5 193.5,196.4 193.6,217.7 193.7,196.3 193.8,189.8 194.0,187.9 194.1,189.3 194.2,195.2 194.3,208.7 194.4,194.9 194.6,189.0 194.7,187.1 194.8,188.4 195.0,194.2 195.0,204.3 195.1,192.5 195.3,187.3 195.4,185.7 195.5,186.8 195.7,191.8 195.7,204.7 195.8,191.5 195.9,185.7 196.0,183.9 196.2,185.2 196.3,190.8 196.5,199.8 196.6,188.6 196.7,183.7 196.8,182.1 197.0,183.1 197.1,197.8 197.1,187.9 197.2,187.1 197.3,182.4 197.5,180.9 197.6,181.8 197.7,186.4 197.9,197.7 198.0,186.1 198.1,180.9 198.2,179.3 198.4,180.3 198.5,185.3 198.7,201.4 198.7,186.0 198.9,179.5 199.0,177.4 199.2,178.8 199.3,184.6 199.4,191.8 199.5,181.9 199.6,177.5 199.7,176.0 199.9,176.8 200.0,181.0 200.1,188.2 200.2,179.2 200.3,175.2 200.4,173.8 200.6,174.6 200.7,178.5 200.9,190.0 201.0,179.5 201.1,174.9 201.2,173.4 201.4,174.4 201.5,178.8 201.6,190.1 201.7,178.4 201.8,196.9 202.0,167.2 202.2,162.2 202.5,159.7 202.7,159.1 202.9,159.7 203.1,162.2 203.4,167.2 203.6,196.9 203.7,176.8 203.8,194.1 203.9,180.5 204.0,175.2 204.2,174.1 204.3,175.9 204.5,181.5 204.5,199.3 204.6,182.9 204.7,177.0 204.8,175.6 205.0,177.6 205.1,184.1 205.3,189.8 205.4,181.4 205.5,178.2 205.7,177.6 205.8,178.8 205.9,191.4 205.9,182.3 206.0,183.1 206.1,180.0 206.3,179.4 206.4,180.6 206.5,184.0 206.6,189.9 206.7,183.7 206.8,181.4 207.0,181.1 207.1,182.0 207.2,184.5 207.4,199.0 207.5,187.9 207.6,183.4 207.8,182.2 207.9,183.5 208.0,188.1 208.2,195.7 208.3,186.9 208.4,183.3 208.5,182.4 208.7,183.4 208.8,187.1 208.8,197.0 208.9,187.4 209.1,183.4 209.2,182.4 209.3,183.6 209.5,187.6 209.7,194.8 209.7,187.1 209.9,183.9 210.0,183.2 210.2,184.1 210.3,187.3 210.4,204.8 210.4,190.7 210.6,184.9 210.7,183.4 210.9,185.1 211.0,190.9 211.2,199.4 211.2,189.5 211.4,185.5 211.5,184.5 211.7,185.6 211.8,196.4 211.8,189.7 211.9,188.4 212.0,184.9 212.1,183.9 212.3,184.7 212.4,188.1 212.5,204.0 212.6,190.6 212.8,184.9 212.9,183.3 213.0,184.7 213.2,201.7 213.2,190.3 213.2,189.6 213.4,184.4 213.5,182.9 213.7,184.2 213.8,189.3 213.9,206.0 214.0,190.0 214.1,183.7 214.3,181.9 214.4,183.5 214.5,189.6 214.5,203.7 214.6,189.5 214.8,183.4 214.9,181.7 215.1,183.2 215.2,189.2 215.2,198.1 215.3,186.7 215.4,181.8 215.6,180.4 215.7,181.6 215.9,186.4 215.9,201.6 216.0,187.7 216.1,181.8 216.3,180.1 216.4,181.6 216.6,187.4 216.6,193.4 216.7,184.9 216.8,181.3 217.0,180.3 217.1,181.2 217.3,184.7 217.3,202.6 217.4,187.6 217.5,181.3 217.6,179.6 217.8,181.2 217.9,187.3 218.1,194.1 218.2,184.7 218.3,180.7 218.4,179.6 218.6,180.6 218.7,184.5 218.9,195.0 219.0,184.9 219.1,180.6 219.3,179.4 219.4,180.4 219.5,184.7 219.6,195.9 219.6,185.2 219.8,180.7 219.9,179.4 220.1,180.5 220.2,185.1 220.3,205.0 220.4,186.3 220.5,180.0 220.6,178.3 220.8,179.9 220.9,206.4 220.9,186.0 221.0,185.9 221.1,179.7 221.2,177.9 221.4,179.5 221.5,185.7 221.7,204.7 221.7,185.7 221.9,179.4 222.0,177.7 222.2,179.3 222.3,185.4 222.3,210.5 222.4,185.2 222.5,179.0 222.7,177.2 222.8,178.8 222.9,185.0 223.0,202.7 223.1,184.9 223.2,178.7 223.3,176.9 223.5,178.5 223.6,184.7 223.7,201.9 223.8,185.1 223.9,178.8 224.1,177.1 224.2,178.6 224.3,184.8 224.5,196.7 224.6,183.4 224.7,177.8 224.8,176.2 225.0,177.7 225.1,183.3 225.1,202.5 225.2,183.7 225.4,177.4 225.5,175.7 225.6,177.3 225.8,183.4 225.8,202.8 225.9,183.7 226.1,177.4 226.2,175.6 226.3,177.2 226.5,183.3 226.5,197.0 226.6,183.0 226.7,177.1 226.9,175.4 227.0,176.9 227.1,182.8 227.1,200.7 227.2,182.9 227.3,176.7 227.5,174.9 227.6,176.5 227.8,182.6 227.9,198.2 227.9,182.4 228.1,176.1 228.2,174.4 228.4,175.9 228.5,182.1 228.6,197.8 228.7,181.7 228.8,175.4 229.0,173.7 229.1,175.2 229.3,181.4 229.4,191.1 229.5,179.3 229.6,174.3 229.8,172.9 229.9,174.1 230.0,179.1 230.1,192.8 230.2,180.3 230.3,175.0 230.5,173.5 230.6,174.8 230.8,180.1 230.9,198.2 231.0,180.4 231.1,174.1 231.3,172.4 231.4,174.0 231.5,180.1 231.7,197.5 231.8,179.4 231.9,173.1 232.1,171.4 232.2,173.0 232.3,199.9 232.4,179.1 232.4,180.0 232.6,173.8 232.7,172.0 232.8,173.6 233.0,179.7 233.1,195.5 233.2,179.4 233.3,173.1 233.5,171.4 233.6,173.0 233.7,179.1 233.8,186.2 233.9,175.9 234.0,171.5 234.2,170.3 234.3,171.4 234.5,175.7 234.6,192.0 234.7,177.8 234.8,171.8 235.0,170.0 235.1,171.5 235.2,177.4 235.4,191.2 235.5,177.1 235.6,171.1 235.8,169.3 235.9,170.8 236.0,176.7 236.1,195.2 236.2,177.0 236.3,170.7 236.5,168.9 236.6,170.4 236.8,176.4 236.9,192.4 237.0,175.5 237.1,169.2 237.3,167.3 237.4,168.8 237.5,174.9 237.6,195.2 237.7,175.1 237.9,168.7 238.0,166.9 238.1,168.4 238.3,174.5 238.3,189.7 238.4,174.2 238.5,167.9 238.7,165.9 238.8,167.2 239.0,173.0 239.0,184.3 239.1,171.1 239.2,165.3 239.4,163.4 239.5,164.5 239.6,170.1 239.7,186.4 239.8,170.6 239.9,164.1 240.1,162.0 240.2,163.3 240.3,169.1 240.3,184.5 240.4,168.6 240.5,162.1 240.7,160.0 240.8,161.3 241.0,167.2 241.0,176.9 241.1,165.4 241.2,160.4 241.4,159.0 241.5,160.1 241.6,165.0 241.7,178.0 241.8,165.9 241.9,160.7 242.1,159.2 242.2,160.4 242.3,165.5 242.4,180.7 242.5,165.3 242.5,187.8 242.7,155.2 243.0,150.2 243.2,147.6 243.4,147.0 243.6,147.6 243.8,150.2 244.1,155.2 244.3,187.8 244.3,160.0 244.4,164.1 244.5,181.4 244.6,166.9 244.7,161.0 244.9,159.6 245.0,161.3 245.1,167.4 245.2,186.8 245.3,168.2 245.4,162.1 245.6,160.9 245.7,163.2 245.8,170.0 246.0,177.0 246.0,167.9 246.2,164.5 246.3,164.2 246.5,165.7 246.6,169.5 246.6,179.4 246.7,171.1 246.8,168.1 247.0,167.9 247.1,169.3 247.3,172.7 247.4,186.0 247.4,174.9 247.6,170.9 247.7,170.3 247.9,172.1 248.0,176.6 248.1,186.6 248.2,177.0 248.4,173.1 248.5,172.3 248.6,173.5 248.8,177.5 248.8,188.0 248.9,178.4 249.0,174.5 249.2,173.7 249.3,174.9 249.4,178.9 249.5,191.0 249.6,179.9 249.8,175.5 249.9,174.4 250.0,175.8 250.2,180.4 250.3,202.2 250.4,183.3 250.5,177.3 250.6,175.8 250.8,177.7 250.9,184.0 251.0,196.0 251.1,183.1 251.3,177.9 251.4,176.6 251.5,178.2 251.7,195.1 251.7,183.6 251.8,183.6 251.9,178.9 252.0,177.8 252.2,179.3 252.3,184.1 252.3,200.9 252.4,186.0 252.5,180.0 252.7,178.6 252.8,180.3 252.9,186.4 253.0,197.4 253.1,185.5 253.2,180.6 253.3,179.3 253.5,180.7 253.6,185.7 253.7,202.4 253.8,187.9 253.9,181.9 254.1,180.3 254.2,182.0 254.4,188.1 254.5,202.5 254.6,188.1 254.7,182.1 254.9,180.6 255.0,182.3 255.1,203.2 255.1,188.3 255.2,188.1 255.3,182.0 255.5,180.4 255.6,182.2 255.8,188.5 255.8,202.4 255.8,188.1 256.0,182.1 256.1,180.6 256.3,182.3 256.4,188.3 256.4,204.7 256.5,189.0 256.6,182.9 256.8,181.3 256.9,183.0 257.1,189.3 257.1,199.4 257.2,187.9 257.3,183.2 257.4,182.0 257.6,183.3 257.7,188.2 257.9,201.6 258.0,189.3 258.1,184.1 258.2,182.8 258.4,184.3 258.5,189.4 258.5,200.5 258.6,188.7 258.8,183.8 258.9,182.5 259.0,183.8 259.2,188.8 259.2,205.8 259.3,190.8 259.4,184.7 259.5,183.1 259.7,184.8 259.8,202.2 259.8,191.0 259.9,189.9 260.0,184.8 260.2,183.5 260.3,184.9 260.4,190.0 260.5,204.9 260.6,190.6 260.7,184.6 260.9,183.1 261.0,184.7 261.1,198.9 261.1,190.7 261.2,188.6 261.3,184.4 261.5,183.3 261.6,184.4 261.8,188.7 261.8,198.1 261.9,188.9 262.0,185.0 262.1,184.0 262.3,185.1 262.4,189.0 262.5,205.8 262.6,191.3 262.7,185.2 262.9,183.6 263.0,185.3 263.1,191.4 263.2,195.9 263.3,188.7 263.4,185.8 263.6,185.0 263.7,185.9 263.8,188.9 264.0,197.4 264.0,189.2 264.2,185.8 264.3,184.9 264.5,185.9 264.6,189.3 264.6,204.1 264.7,191.3 264.8,186.1 265.0,184.7 265.1,186.2 265.2,191.5 265.2,200.1 265.3,190.2 265.5,186.1 265.6,185.0 265.8,186.2 265.9,190.4 266.0,205.2 266.1,192.5 266.3,187.3 266.4,185.9 266.5,187.4 266.7,192.7 266.8,203.9 266.8,192.1 267.0,187.2 267.1,186.0 267.3,187.4 267.4,192.3 267.5,202.3 267.6,192.0 267.7,187.8 267.9,186.7 268.0,187.9 268.1,192.2 268.2,199.6 268.3,191.0 268.5,187.4 268.6,186.5 268.7,187.6 268.9,191.1 268.9,202.0 269.0,192.2 269.1,188.1 269.2,187.2 269.4,188.4 269.5,192.5 269.5,205.0 269.6,193.4 269.7,188.6 269.9,187.4 270.0,188.8 270.2,193.7 270.3,200.0 270.4,192.2 270.5,189.1 270.7,188.4 270.8,189.3 271.0,192.5 271.1,197.4 271.2,191.7 271.4,189.4 271.5,188.9 271.7,189.6 271.8,192.0 271.9,203.7 272.0,194.0 272.1,190.1 272.3,189.1 272.4,190.3 272.5,197.7 272.6,194.3 272.6,192.7 272.8,190.8 272.9,190.3 273.0,191.0 273.2,193.0 273.2,200.2 273.3,193.7 273.4,191.1 273.6,190.5 273.7,191.4 273.9,194.0 274.0,203.6 274.1,195.0 274.2,191.5 274.3,190.7 274.5,191.7 274.6,195.2 274.6,201.0 274.7,194.8 274.9,192.2 275.0,191.4 275.1,192.1 275.3,194.7 275.3,200.6 275.4,194.3 275.6,191.6 275.7,190.9 275.8,191.6 276.0,194.2 276.0,209.4 276.1,197.2 276.2,192.1 276.4,190.7 276.5,192.0 276.6,197.1 276.7,200.2 276.8,193.9 276.9,191.2 277.1,190.5 277.2,191.2 277.3,193.8 277.4,214.1 277.5,198.1 277.6,191.9 277.8,190.2 277.9,191.8 278.0,198.0 278.1,198.6 278.2,193.6 278.3,191.1 278.5,190.1 278.6,190.3 278.7,192.5 278.8,204.3 278.9,194.1 279.0,189.5 279.2,187.9 279.3,188.7 279.4,193.0 279.5,202.1 279.6,192.1 279.7,187.5 279.8,185.9 280.0,186.7 280.1,191.0 280.2,199.4 280.3,189.2 280.4,184.5 280.5,182.9 280.7,183.7 280.8,188.1 281.0,197.1 281.0,187.2 281.2,182.6 281.3,181.1 281.5,181.8 281.6,186.1 281.7,195.1 281.8,185.2 281.9,180.8 282.1,179.2 282.2,180.0 282.3,184.2 282.4,189.0 282.5,181.5 282.6,178.0 282.7,176.8 282.9,177.3 283.0,180.5 283.1,194.0 283.2,181.6 283.3,176.1 283.5,174.3 283.6,175.5 283.7,184.6 283.8,196.9 283.9,170.1 284.1,165.1 284.3,162.6 284.5,162.0 284.7,162.6 284.8,165.1 285.0,170.1 285.2,196.9 285.2,197.2 285.3,183.1 285.4,177.5 285.6,176.4 285.7,178.4 285.8,184.2 286.0,188.9 286.1,181.7 286.2,179.1 286.4,178.7 286.5,179.7 286.7,182.6 286.8,197.3 286.9,186.0 287.0,181.5 287.2,180.6 287.3,182.0 287.5,186.7 287.5,201.3 287.6,188.1 287.7,182.8 287.9,181.6 288.0,183.3 288.1,188.8 288.2,196.4 288.3,187.2 288.4,183.6 288.5,182.8 288.7,184.0 288.8,187.9 289.0,201.8 289.1,189.9 289.2,185.1 289.3,184.0 289.5,185.5 289.6,190.5 289.7,221.6 289.8,193.3 289.9,187.4 290.1,186.0 290.2,187.9 290.3,194.3 290.5,205.7 290.6,192.9 290.7,187.8 290.9,186.6 291.0,188.3 291.1,193.5 291.3,216.1 291.3,195.3 291.5,189.3 291.6,187.8 291.8,189.7 291.9,196.2 292.0,205.8 292.1,194.7 292.2,190.2 292.4,189.2 292.5,190.6 292.7,195.3 292.7,216.6 292.8,198.5 292.9,192.5 293.1,191.0 293.2,192.9 293.4,199.4 293.4,214.2 293.5,198.9 293.6,192.9 293.8,191.5 293.9,193.4 294.0,199.7 294.1,219.7 294.2,200.2 294.3,194.2 294.4,192.8 294.6,194.7 294.7,201.1 294.7,207.3 294.8,198.6 294.9,195.1 295.1,194.4 295.2,195.5 295.3,199.2 295.4,222.7 295.5,202.8 295.6,196.8 295.8,195.4 295.9,197.3 296.1,203.7 296.1,210.6 296.1,200.9 296.3,197.0 296.4,196.2 296.6,197.5 296.7,237.7 296.7,201.5 296.8,204.5 296.9,198.6 297.0,197.2 297.2,199.2 297.3,205.6 297.4,232.5 297.5,205.9 297.6,200.0 297.7,198.6 297.9,200.6 298.0,207.0 298.2,223.3 298.3,207.2 298.4,201.3 298.5,199.9 298.7,201.9 298.8,208.3 299.0,226.8 299.1,209.9 299.2,204.0 299.3,202.6 299.5,204.6 299.6,211.0 299.8,219.3 299.8,208.5 300.0,204.1 300.1,203.2 300.3,204.7 300.4,228.6 300.4,209.2 300.5,211.7 300.6,205.8 300.7,204.4 300.9,206.3 301.0,212.8 301.1,231.9 301.2,213.0 301.3,207.1 301.5,205.7 301.6,207.7 301.7,214.2 301.9,219.2 302.0,211.8 302.1,209.1 302.2,208.7 302.4,209.8 302.5,212.8 302.7,226.6 302.8,215.1 302.9,210.5 303.0,209.7" class="ln2"/>
<rect x="183.7" y="147" width="119.4" height="90.7" class="ax"/>
<path d="M183.7 237.7v-1.2M183.7 147v1.2" class="tk"/>
<text transform="translate(183.7 246.4) scale(0.9 1)" class="tl" text-anchor="middle">0</text>
<path d="M213.6 237.7v-1.2M213.6 147v1.2" class="tk"/>
<text transform="translate(213.6 246.4) scale(0.9 1)" class="tl" text-anchor="middle">500</text>
<path d="M243.4 237.7v-1.2M243.4 147v1.2" class="tk"/>
<text transform="translate(243.4 246.4) scale(0.9 1)" class="tl" text-anchor="middle">1000</text>
<path d="M273.2 237.7v-1.2M273.2 147v1.2" class="tk"/>
<text transform="translate(273.2 246.4) scale(0.9 1)" class="tl" text-anchor="middle">1500</text>
<path d="M303.1 237.7v-1.2M303.1 147v1.2" class="tk"/>
<text transform="translate(303.1 246.4) scale(0.9 1)" class="tl" text-anchor="middle">2000</text>
<path d="M183.7 147h1.2M303.1 147h-1.2" class="tk"/>
<text transform="translate(182 149.5) scale(0.9 1)" class="tl" text-anchor="end">0</text>
<path d="M183.7 165.1h1.2M303.1 165.1h-1.2" class="tk"/>
<text transform="translate(182 167.6) scale(0.9 1)" class="tl" text-anchor="end">-20</text>
<path d="M183.7 183.3h1.2M303.1 183.3h-1.2" class="tk"/>
<text transform="translate(182 185.8) scale(0.9 1)" class="tl" text-anchor="end">-40</text>
<path d="M183.7 201.4h1.2M303.1 201.4h-1.2" class="tk"/>
<text transform="translate(182 203.9) scale(0.9 1)" class="tl" text-anchor="end">-60</text>
<path d="M183.7 219.6h1.2M303.1 219.6h-1.2" class="tk"/>
<text transform="translate(182 222.1) scale(0.9 1)" class="tl" text-anchor="end">-80</text>
<path d="M183.7 237.7h1.2M303.1 237.7h-1.2" class="tk"/>
<text transform="translate(182 240.2) scale(0.9 1)" class="tl" text-anchor="end">-100</text>
<text x="243.4" y="254.7" class="al" text-anchor="middle">Azimuth (samples)</text>
<text transform="translate(170.4 193.5) rotate(-90) scale(0.97 1)" class="al" text-anchor="middle">Amplitude(dB)</text>
<text x="253.6" y="268.8" class="lb" text-anchor="middle">(e)</text>
<line x1="371.4" y1="146.4" x2="371.4" y2="237.4" class="gr"/>
<line x1="401.2" y1="146.4" x2="401.2" y2="237.4" class="gr"/>
<line x1="431" y1="146.4" x2="431" y2="237.4" class="gr"/>
<line x1="341.5" y1="164.6" x2="460.9" y2="164.6" class="gr"/>
<line x1="341.5" y1="182.8" x2="460.9" y2="182.8" class="gr"/>
<line x1="341.5" y1="201" x2="460.9" y2="201" class="gr"/>
<line x1="341.5" y1="219.2" x2="460.9" y2="219.2" class="gr"/>
<polyline points="341.6,187.6 341.8,186.4 341.9,187.6 342.0,204.7 342.0,192.3 342.1,192.8 342.2,187.8 342.4,186.4 342.5,187.8 342.7,192.8 342.8,205.7 342.9,193.3 343.0,188.1 343.2,186.7 343.3,188.1 343.5,201.1 343.5,193.3 343.5,191.8 343.7,187.9 343.8,186.8 344.0,187.9 344.1,191.8 344.2,197.8 344.3,191.2 344.4,188.5 344.5,187.8 344.7,188.5 344.8,191.2 344.8,205.6 344.9,192.9 345.1,187.6 345.2,186.1 345.3,187.6 345.5,192.9 345.6,220.0 345.7,195.0 345.8,188.8 346.0,187.1 346.1,188.8 346.2,195.0 346.2,200.3 346.3,190.8 346.5,186.7 346.6,185.7 346.7,186.7 346.9,190.8 347.0,218.1 347.1,193.9 347.2,187.6 347.3,186.0 347.5,187.6 347.6,209.8 347.6,193.8 347.7,195.0 347.8,188.7 348.0,186.9 348.1,188.5 348.2,194.6 348.4,204.7 348.4,192.7 348.6,187.5 348.7,186.0 348.9,187.3 349.0,192.4 349.1,208.5 349.2,193.4 349.3,187.0 349.5,185.2 349.6,186.8 349.8,192.9 349.9,210.8 350.0,191.9 350.2,185.6 350.3,183.8 350.4,185.4 350.6,191.5 350.7,207.5 350.8,191.1 350.9,184.8 351.0,183.0 351.2,184.5 351.3,190.6 351.4,194.9 351.5,187.2 351.6,183.8 351.7,182.8 351.9,183.5 352.0,186.8 352.2,194.1 352.3,186.0 352.4,182.5 352.5,181.4 352.7,182.1 352.8,185.6 352.9,194.1 353.0,185.8 353.1,182.2 353.3,181.1 353.4,181.9 353.6,185.4 353.6,197.7 353.7,185.8 353.8,180.7 354.0,179.2 354.1,180.4 354.2,185.4 354.3,189.4 354.4,183.2 354.5,180.2 354.6,179.0 354.8,179.3 354.9,182.0 355.1,188.4 355.1,179.7 355.3,175.6 355.4,174.1 355.6,174.7 355.7,178.4 355.7,202.8 355.8,198.0 355.8,176.4 356.1,178.7 356.3,173.8 356.5,176.1 356.8,171.1 357.0,173.5 357.3,168.6 357.5,171.3 357.7,166.6 358.0,169.3 358.2,164.6 358.5,167.3 358.7,162.8 358.9,165.5 359.2,161.0 359.4,163.7 359.6,159.4 359.9,162.5 360.1,158.2 360.4,163.0 360.6,160.4 360.8,165.4 361.1,163.5 361.3,168.8 361.6,166.9 361.8,172.3 362.0,170.5 362.2,196.4 362.3,173.0 362.3,192.9 362.4,176.4 362.6,170.6 362.7,169.4 362.8,171.5 363.0,178.1 363.1,186.7 363.1,176.3 363.3,172.3 363.4,171.6 363.6,173.1 363.7,177.1 363.9,190.4 364.0,178.4 364.1,173.5 364.2,172.2 364.4,173.6 364.5,178.6 364.6,210.4 364.7,181.4 364.8,175.2 364.9,173.6 365.1,175.4 365.2,187.9 365.2,181.6 365.3,179.0 365.4,175.3 365.6,174.4 365.7,175.4 365.8,179.1 366.0,189.9 366.1,178.4 366.2,173.6 366.3,172.4 366.5,173.7 366.6,178.6 366.7,198.0 366.8,181.7 366.9,175.5 367.0,173.9 367.2,175.6 367.3,181.9 367.4,190.5 367.5,180.0 367.6,175.6 367.8,174.4 367.9,175.6 368.0,186.8 368.0,180.0 368.1,178.9 368.2,175.6 368.4,174.8 368.5,175.7 368.7,179.0 368.8,188.1 368.9,179.7 369.0,176.2 369.2,175.3 369.3,176.2 369.5,179.8 369.6,186.3 369.6,178.7 369.8,175.5 369.9,174.6 370.1,175.5 370.2,178.7 370.4,200.0 370.4,180.8 370.6,174.6 370.7,172.9 370.9,174.6 371.0,180.9 371.0,195.9 371.1,182.6 371.3,177.0 371.4,175.5 371.5,177.0 371.7,182.6 371.7,195.8 371.8,182.2 371.9,176.6 372.1,175.0 372.2,176.6 372.4,182.3 372.5,196.1 372.5,183.1 372.7,177.7 372.8,176.2 373.0,177.7 373.1,183.1 373.3,198.6 373.4,183.3 373.5,177.1 373.6,175.4 373.8,177.1 373.9,183.4 373.9,193.9 374.0,181.4 374.2,176.2 374.3,174.8 374.4,176.2 374.6,181.4 374.7,197.9 374.8,182.8 374.9,176.5 375.1,174.8 375.2,176.4 375.3,182.6 375.4,195.3 375.5,183.2 375.6,178.1 375.7,176.7 375.9,178.0 376.0,183.1 376.1,198.5 376.2,183.1 376.3,176.8 376.5,175.1 376.6,176.7 376.7,182.9 376.8,189.0 376.9,180.2 377.0,176.5 377.1,175.4 377.3,176.4 377.4,180.1 377.5,197.5 377.5,183.7 377.7,177.9 377.8,176.3 378.0,177.8 378.1,183.6 378.1,210.5 378.2,182.7 378.3,176.4 378.4,174.7 378.6,176.3 378.7,182.5 378.7,190.8 378.8,180.1 379.0,175.6 379.1,174.4 379.2,175.5 379.4,180.0 379.4,193.2 379.5,181.7 379.6,176.8 379.7,175.4 379.9,176.7 380.0,181.5 380.1,193.6 380.2,180.6 380.3,175.1 380.4,173.6 380.6,175.0 380.7,180.4 380.7,189.2 380.8,178.3 380.9,173.7 381.1,172.4 381.2,173.5 381.4,178.1 381.5,188.3 381.6,178.0 381.7,173.7 381.8,172.4 382.0,173.5 382.1,177.8 382.1,188.0 382.2,179.0 382.4,175.1 382.5,174.0 382.6,175.0 382.8,178.8 382.9,195.6 383.0,180.2 383.1,173.9 383.3,172.1 383.4,173.7 383.5,179.9 383.7,191.3 383.8,178.3 383.9,172.8 384.0,171.3 384.2,172.7 384.3,178.1 384.4,184.9 384.5,176.0 384.7,172.2 384.8,171.1 384.9,172.1 385.1,175.8 385.1,192.3 385.2,178.2 385.4,172.2 385.5,170.5 385.6,172.0 385.8,177.9 386.0,188.2 386.0,176.4 386.2,171.3 386.3,169.9 386.5,171.1 386.6,176.1 386.7,189.3 386.8,176.7 386.9,171.3 387.0,169.7 387.2,171.1 387.3,176.4 387.3,189.5 387.4,177.4 387.5,172.2 387.7,170.7 387.8,172.0 387.9,177.1 388.1,190.6 388.2,176.1 388.3,169.9 388.4,168.2 388.6,169.7 388.7,175.8 388.8,188.2 388.9,174.9 389.0,169.2 389.1,167.6 389.3,169.0 389.4,174.6 389.6,179.3 389.7,170.8 389.8,167.1 389.9,166.0 390.1,166.9 390.2,170.5 390.3,179.7 390.4,172.3 390.5,169.0 390.6,168.1 390.8,168.8 390.9,172.0 391.0,181.4 391.1,172.1 391.2,168.2 391.4,167.1 391.5,168.1 391.6,172.0 391.8,183.8 391.9,172.9 392.0,168.3 392.2,167.0 392.3,168.2 392.4,172.8 392.6,184.9 392.7,172.8 392.8,167.7 393.0,166.3 393.1,167.7 393.2,172.7 393.3,176.7 393.4,169.3 393.5,166.2 393.7,165.4 393.8,166.1 394.0,169.2 394.1,179.1 394.2,170.5 394.3,166.8 394.4,165.8 394.6,166.8 394.7,187.0 394.7,170.4 394.8,172.7 394.9,166.6 395.0,164.9 395.2,166.5 395.3,172.5 395.4,184.7 395.5,171.6 395.6,166.0 395.7,164.5 395.9,165.9 396.0,171.4 396.1,187.6 396.2,172.5 396.3,166.1 396.4,164.1 396.6,165.4 396.7,171.4 396.8,179.4 396.9,168.7 397.1,163.9 397.2,162.3 397.3,163.2 397.5,167.8 397.6,176.9 397.6,166.7 397.8,162.2 397.8,191.9 397.9,164.6 398.2,167.0 398.4,162.2 398.6,164.6 398.9,159.6 399.1,161.6 399.3,156.2 399.6,158.2 399.8,152.9 400.1,154.9 400.3,149.6 400.5,151.7 400.8,146.4 401.0,151.3 401.3,148.8 401.5,153.7 401.7,151.3 402.0,156.1 402.2,153.7 402.5,158.5 402.7,155.7 402.9,160.3 403.2,157.5 403.4,162.1 403.6,159.4 403.9,164.0 404.1,161.3 404.4,165.9 404.6,163.3 404.8,167.9 405.1,165.2 405.3,169.8 405.5,191.9 405.5,172.9 405.6,166.9 405.8,165.5 405.9,167.4 406.0,173.7 406.0,181.4 406.1,172.1 406.3,168.5 406.4,167.7 406.5,169.0 406.7,172.8 406.8,184.0 406.9,173.8 407.0,169.8 407.1,168.9 407.3,170.3 407.4,174.5 407.6,189.3 407.6,176.2 407.8,170.9 407.9,169.5 408.1,171.1 408.2,176.6 408.2,183.9 408.3,175.0 408.4,171.4 408.6,170.5 408.7,171.6 408.8,175.3 408.9,189.0 409.0,177.4 409.1,172.6 409.2,171.4 409.4,172.8 409.5,192.8 409.5,177.7 409.6,178.5 409.7,172.6 409.9,171.1 410.0,172.8 410.1,178.8 410.2,183.1 410.3,175.3 410.4,172.2 410.5,171.4 410.7,172.4 410.8,175.6 410.8,194.1 410.9,180.3 411.0,174.6 411.2,173.2 411.3,174.8 411.4,180.6 411.5,194.1 411.6,180.9 411.7,175.5 411.8,174.2 412.0,175.7 412.1,192.1 412.1,181.2 412.2,180.2 412.3,175.3 412.5,174.1 412.6,175.5 412.7,180.5 412.8,193.4 412.9,181.4 413.0,176.5 413.2,175.3 413.3,176.7 413.4,181.7 413.6,191.3 413.7,180.2 413.8,175.6 414.0,174.5 414.1,175.8 414.2,180.4 414.4,210.5 414.5,183.6 414.6,177.4 414.8,175.8 414.9,177.6 415.0,183.8 415.1,185.5 415.2,179.2 415.4,176.6 415.5,176.0 415.6,176.8 415.8,179.4 415.9,204.8 416.0,182.3 416.2,176.2 416.3,174.6 416.4,176.3 416.6,182.6 416.6,199.8 416.7,183.7 416.8,177.6 417.0,176.0 417.1,177.7 417.3,184.0 417.4,196.6 417.5,183.7 417.6,178.4 417.8,177.0 417.9,178.5 418.0,183.9 418.1,187.6 418.2,180.8 418.3,178.0 418.4,177.3 418.6,178.1 418.7,181.0 418.8,188.5 418.9,180.9 419.1,177.8 419.2,177.0 419.3,177.9 419.5,181.1 419.5,190.9 419.6,182.6 419.7,179.2 419.9,178.4 420.0,179.4 420.2,182.8 420.3,195.4 420.4,183.6 420.5,178.7 420.6,177.5 420.8,178.8 420.9,183.8 421.0,197.2 421.1,184.5 421.2,179.2 421.4,177.8 421.5,179.3 421.6,184.6 421.7,194.5 421.8,184.4 422.0,180.2 422.1,179.2 422.2,180.4 422.4,184.6 422.4,199.0 422.5,186.8 422.6,181.8 422.8,180.5 422.9,181.9 423.0,187.0 423.2,199.3 423.2,186.8 423.4,181.6 423.5,180.2 423.7,181.7 423.8,187.0 423.8,193.5 423.9,184.8 424.0,181.2 424.2,180.3 424.3,181.3 424.5,184.9 424.5,193.2 424.6,185.0 424.7,181.6 424.9,180.7 425.0,181.7 425.2,185.1 425.2,192.1 425.3,185.0 425.4,182.0 425.6,181.3 425.7,182.1 425.9,185.1 426.0,195.1 426.0,185.1 426.2,181.0 426.3,179.9 426.5,181.1 426.6,185.2 426.7,198.3 426.8,186.6 427.0,181.8 427.1,180.5 427.2,181.8 427.4,186.7 427.4,195.2 427.5,185.8 427.6,182.0 427.8,181.0 427.9,182.1 428.0,198.0 428.0,186.0 428.1,187.4 428.2,183.0 428.4,181.9 428.5,183.1 428.7,187.5 428.8,203.1 428.8,188.4 429.0,182.3 429.1,180.7 429.3,182.4 429.4,197.5 429.4,188.5 429.5,187.2 429.6,182.9 429.7,181.8 429.9,183.1 430.0,187.4 430.1,194.2 430.1,186.4 430.3,183.2 430.4,182.4 430.6,183.3 430.7,186.6 430.9,198.2 430.9,188.1 431.1,183.9 431.2,182.8 431.4,184.1 431.5,188.3 431.7,204.9 431.7,190.0 431.9,183.9 432.0,182.3 432.2,184.1 432.3,190.3 432.3,197.7 432.4,187.7 432.5,183.6 432.7,182.6 432.8,183.8 433.0,187.9 433.0,202.2 433.0,191.2 433.2,186.6 433.3,185.5 433.5,186.8 433.6,191.4 433.7,195.7 433.8,188.2 433.9,185.0 434.1,184.3 434.2,185.2 434.4,188.3 434.5,201.4 434.6,190.6 434.7,186.1 434.9,184.9 435.0,186.2 435.1,190.7 435.2,203.9 435.3,191.9 435.4,187.0 435.5,185.7 435.7,187.1 435.8,192.1 435.9,203.3 436.0,191.4 436.2,186.4 436.3,185.2 436.4,186.6 436.6,191.6 436.7,196.9 436.8,189.4 436.9,186.3 437.0,185.5 437.2,186.4 437.3,189.5 437.4,201.8 437.5,191.4 437.6,187.2 437.7,186.1 437.9,187.0 438.0,200.8 438.0,191.2 438.1,191.4 438.2,187.3 438.4,186.0 438.5,186.8 438.6,190.8 438.7,196.9 438.8,188.7 439.0,184.5 439.1,182.6 439.2,182.8 439.4,186.4 439.4,194.2 439.5,185.5 439.6,181.0 439.7,179.1 439.9,179.3 439.9,205.6 440.0,182.8 440.2,183.5 440.5,177.0 440.7,177.7 441.0,171.2 441.2,171.9 441.4,166.6 441.7,168.6 441.9,164.1 442.2,169.4 442.4,167.3 442.6,171.9 442.9,169.3 443.1,173.9 443.3,171.2 443.6,175.8 443.8,173.2 444.1,177.8 444.3,175.1 444.5,179.7 444.8,177.0 445.0,181.6 445.3,179.0 445.5,183.6 445.7,180.9 446.0,185.5 446.1,202.8 446.2,196.0 446.3,182.7 446.4,177.3 446.5,176.1 446.7,177.8 446.8,183.4 447.0,198.3 447.1,184.9 447.2,179.4 447.3,177.9 447.5,179.5 447.6,185.1 447.8,200.9 447.9,185.5 448.0,179.3 448.1,177.7 448.3,179.5 448.4,185.8 448.5,205.6 448.6,185.7 448.7,179.6 448.9,178.0 449.0,179.7 449.1,195.0 449.1,186.0 449.2,184.2 449.3,179.7 449.5,178.6 449.6,179.9 449.7,184.4 449.9,203.5 449.9,187.4 450.1,181.3 450.2,179.7 450.4,181.4 450.5,187.7 450.5,200.4 450.6,186.2 450.7,180.4 450.8,178.9 451.0,180.5 451.1,186.4 451.2,218.1 451.3,187.7 451.4,181.6 451.6,180.0 451.7,181.7 451.8,188.0 452.0,197.8 452.1,185.3 452.2,180.1 452.4,178.8 452.5,180.3 452.6,185.5 452.7,205.8 452.8,188.9 452.9,182.7 453.0,181.1 453.2,182.9 453.3,189.2 453.4,203.5 453.5,188.8 453.6,182.6 453.8,181.1 453.9,182.8 454.0,189.0 454.2,203.3 454.3,188.9 454.4,182.8 454.5,181.3 454.7,183.0 454.8,194.7 454.8,189.0 454.9,186.2 455.0,182.8 455.2,181.9 455.3,182.9 455.4,186.4 455.6,205.4 455.6,189.5 455.8,183.4 455.9,181.7 456.1,183.5 456.2,189.7 456.3,202.6 456.4,188.9 456.5,183.1 456.7,181.6 456.8,183.2 456.9,189.0 457.0,203.9 457.1,189.4 457.2,183.4 457.4,181.8 457.5,183.4 457.6,189.5 457.7,206.9 457.8,190.4 458.0,184.3 458.1,182.6 458.2,184.4 458.4,190.6 458.5,195.8 458.5,187.5 458.7,184.0 458.8,183.1 459.0,184.1 459.1,187.6 459.2,205.8 459.3,191.6 459.4,185.7 459.6,184.1 459.7,185.7 459.8,198.2 459.8,191.7 459.9,189.1 460.0,185.4 460.2,184.4 460.3,185.5 460.4,189.2 460.5,198.0 460.6,188.1 460.7,184.0 460.9,182.9" class="ln2"/>
<rect x="341.5" y="146.4" width="119.4" height="91" class="ax"/>
<path d="M341.5 237.4v-1.2M341.5 146.4v1.2" class="tk"/>
<text transform="translate(341.5 246.1) scale(0.9 1)" class="tl" text-anchor="middle">0</text>
<path d="M371.4 237.4v-1.2M371.4 146.4v1.2" class="tk"/>
<text transform="translate(371.4 246.1) scale(0.9 1)" class="tl" text-anchor="middle">500</text>
<path d="M401.2 237.4v-1.2M401.2 146.4v1.2" class="tk"/>
<text transform="translate(401.2 246.1) scale(0.9 1)" class="tl" text-anchor="middle">1000</text>
<path d="M431 237.4v-1.2M431 146.4v1.2" class="tk"/>
<text transform="translate(431 246.1) scale(0.9 1)" class="tl" text-anchor="middle">1500</text>
<path d="M460.9 237.4v-1.2M460.9 146.4v1.2" class="tk"/>
<text transform="translate(460.9 246.1) scale(0.9 1)" class="tl" text-anchor="middle">2000</text>
<path d="M341.5 146.4h1.2M460.9 146.4h-1.2" class="tk"/>
<text transform="translate(339.8 148.9) scale(0.9 1)" class="tl" text-anchor="end">0</text>
<path d="M341.5 164.6h1.2M460.9 164.6h-1.2" class="tk"/>
<text transform="translate(339.8 167.1) scale(0.9 1)" class="tl" text-anchor="end">-20</text>
<path d="M341.5 182.8h1.2M460.9 182.8h-1.2" class="tk"/>
<text transform="translate(339.8 185.3) scale(0.9 1)" class="tl" text-anchor="end">-40</text>
<path d="M341.5 201h1.2M460.9 201h-1.2" class="tk"/>
<text transform="translate(339.8 203.5) scale(0.9 1)" class="tl" text-anchor="end">-60</text>
<path d="M341.5 219.2h1.2M460.9 219.2h-1.2" class="tk"/>
<text transform="translate(339.8 221.7) scale(0.9 1)" class="tl" text-anchor="end">-80</text>
<path d="M341.5 237.4h1.2M460.9 237.4h-1.2" class="tk"/>
<text transform="translate(339.8 239.9) scale(0.9 1)" class="tl" text-anchor="end">-100</text>
<text x="401.2" y="254.4" class="al" text-anchor="middle">Azimuth (samples)</text>
<text transform="translate(328.2 193.1) rotate(-90) scale(0.97 1)" class="al" text-anchor="middle">Amplitude(dB)</text>
<text x="403.9" y="268.8" class="lb" text-anchor="middle">(f)</text>
<g filter="url(#soft)">
<ellipse cx="83.8" cy="308.2" rx="0.55" ry="0.50" fill="none" stroke="#1818e0" stroke-width="0.5"/>
<ellipse cx="83.8" cy="310.5" rx="0.55" ry="0.50" fill="none" stroke="#1818e0" stroke-width="0.5"/>
<ellipse cx="83.8" cy="312.9" rx="0.55" ry="0.50" fill="none" stroke="#1818e0" stroke-width="0.5"/>
<ellipse cx="83.8" cy="314.7" rx="0.55" ry="0.50" fill="none" stroke="#1818e0" stroke-width="0.5"/>
<ellipse cx="83.8" cy="328.8" rx="0.55" ry="0.50" fill="none" stroke="#1818e0" stroke-width="0.5"/>
<ellipse cx="83.8" cy="331.1" rx="0.55" ry="0.50" fill="none" stroke="#1818e0" stroke-width="0.5"/>
<ellipse cx="83.8" cy="333.0" rx="0.55" ry="0.50" fill="none" stroke="#1818e0" stroke-width="0.5"/>
<ellipse cx="83.8" cy="334.6" rx="0.55" ry="0.50" fill="none" stroke="#1818e0" stroke-width="0.5"/>
<polygon points="58.8,320.0 81.5,317.8 81.5,324.8 58.8,321.2" fill="url(#gL)"/>
<ellipse cx="59.8" cy="320.6" rx="0.98" ry="0.50" fill="none" stroke="#4848ee" stroke-width="0.4" opacity="0.9"/>
<ellipse cx="61.6" cy="320.7" rx="0.98" ry="0.70" fill="none" stroke="#4848ee" stroke-width="0.4" opacity="0.9"/>
<ellipse cx="63.3" cy="320.7" rx="0.98" ry="0.90" fill="none" stroke="#4848ee" stroke-width="0.4" opacity="0.9"/>
<ellipse cx="65.1" cy="320.8" rx="0.98" ry="1.10" fill="none" stroke="#4848ee" stroke-width="0.4" opacity="0.9"/>
<ellipse cx="66.9" cy="320.8" rx="0.98" ry="1.30" fill="none" stroke="#4848ee" stroke-width="0.4" opacity="0.9"/>
<ellipse cx="68.7" cy="320.9" rx="0.98" ry="1.50" fill="none" stroke="#4848ee" stroke-width="0.4" opacity="0.9"/>
<ellipse cx="70.5" cy="320.9" rx="0.98" ry="1.70" fill="none" stroke="#4848ee" stroke-width="0.4" opacity="0.9"/>
<ellipse cx="72.2" cy="320.9" rx="0.98" ry="1.90" fill="none" stroke="#4848ee" stroke-width="0.4" opacity="0.9"/>
<ellipse cx="74.0" cy="321.0" rx="0.98" ry="2.10" fill="none" stroke="#4848ee" stroke-width="0.4" opacity="0.9"/>
<polygon points="86,318.2 94.3,321.6 86,324.6" fill="url(#gR)"/>
<ellipse cx="89.0" cy="321.4" rx="1.24" ry="1.50" fill="none" stroke="#4848ee" stroke-width="0.4" opacity="0.9"/>
<ellipse cx="91.2" cy="321.5" rx="1.24" ry="1.05" fill="none" stroke="#4848ee" stroke-width="0.4" opacity="0.9"/>
<ellipse cx="93.5" cy="321.6" rx="1.24" ry="0.60" fill="none" stroke="#4848ee" stroke-width="0.4" opacity="0.9"/>
<ellipse cx="83.8" cy="316.7" rx="1.50" ry="0.80" fill="#0c0cc8"/>
<ellipse cx="83.8" cy="326.3" rx="1.70" ry="0.90" fill="#0c0cc8"/>
<ellipse cx="83.8" cy="321.4" rx="3.40" ry="4.60" fill="#0606d0"/>
<ellipse cx="83.8" cy="321.4" rx="2.34" ry="3.14" fill="#0060ff"/>
<ellipse cx="83.8" cy="321.4" rx="1.80" ry="2.80" fill="#10d0ff"/>
<ellipse cx="83.8" cy="321.4" rx="1.50" ry="2.40" fill="#80f080"/>
<ellipse cx="83.8" cy="321.4" rx="1.20" ry="2.00" fill="#f4ec10"/>
<ellipse cx="84.0" cy="321.4" rx="0.75" ry="1.30" fill="#f41c08"/>
</g>
<rect x="23.5" y="278.5" width="122" height="89.6" class="ax"/>
<path d="M47.3 368.1v-1.2M47.3 278.5v1.2" class="tk"/>
<text transform="translate(47.3 376.8) scale(0.9 1)" class="tl" text-anchor="middle">200</text>
<path d="M71.2 368.1v-1.2M71.2 278.5v1.2" class="tk"/>
<text transform="translate(71.2 376.8) scale(0.9 1)" class="tl" text-anchor="middle">400</text>
<path d="M95 368.1v-1.2M95 278.5v1.2" class="tk"/>
<text transform="translate(95 376.8) scale(0.9 1)" class="tl" text-anchor="middle">600</text>
<path d="M118.8 368.1v-1.2M118.8 278.5v1.2" class="tk"/>
<text transform="translate(118.8 376.8) scale(0.9 1)" class="tl" text-anchor="middle">800</text>
<path d="M142.6 368.1v-1.2M142.6 278.5v1.2" class="tk"/>
<text transform="translate(142.6 376.8) scale(0.9 1)" class="tl" text-anchor="middle">1000</text>
<path d="M23.5 368.1h1.2M145.5 368.1h-1.2" class="tk"/>
<text transform="translate(21.2 370.6) scale(0.9 1)" class="tl" text-anchor="end">100</text>
<path d="M23.5 353.2h1.2M145.5 353.2h-1.2" class="tk"/>
<text transform="translate(21.2 355.7) scale(0.9 1)" class="tl" text-anchor="end">150</text>
<path d="M23.5 338.2h1.2M145.5 338.2h-1.2" class="tk"/>
<text transform="translate(21.2 340.7) scale(0.9 1)" class="tl" text-anchor="end">200</text>
<path d="M23.5 323.3h1.2M145.5 323.3h-1.2" class="tk"/>
<text transform="translate(21.2 325.8) scale(0.9 1)" class="tl" text-anchor="end">250</text>
<path d="M23.5 308.4h1.2M145.5 308.4h-1.2" class="tk"/>
<text transform="translate(21.2 310.9) scale(0.9 1)" class="tl" text-anchor="end">300</text>
<path d="M23.5 293.4h1.2M145.5 293.4h-1.2" class="tk"/>
<text transform="translate(21.2 295.9) scale(0.9 1)" class="tl" text-anchor="end">350</text>
<path d="M23.5 278.5h1.2M145.5 278.5h-1.2" class="tk"/>
<text transform="translate(21.2 281) scale(0.9 1)" class="tl" text-anchor="end">400</text>
<text x="84.5" y="385.1" class="al" text-anchor="middle">Azimuth (samples)</text>
<text transform="translate(7.9 323.3) rotate(-90) scale(1.0 1)" class="al" text-anchor="middle">Range (samples)</text>
<text transform="translate(84.5 275.6) scale(0.86 1)" class="ti" text-anchor="middle">the left end of the scene</text>
<text x="91.1" y="404" class="lb" text-anchor="middle">(g)</text>
<g filter="url(#soft)">
<ellipse cx="241.3" cy="293.6" rx="0.65" ry="0.55" fill="none" stroke="#6a6af0" stroke-width="0.4"/>
<ellipse cx="241.3" cy="296.2" rx="0.65" ry="0.55" fill="none" stroke="#6a6af0" stroke-width="0.4"/>
<ellipse cx="241.3" cy="298.8" rx="0.65" ry="0.55" fill="none" stroke="#6a6af0" stroke-width="0.4"/>
<ellipse cx="241.3" cy="301.4" rx="0.65" ry="0.55" fill="none" stroke="#6a6af0" stroke-width="0.4"/>
<ellipse cx="241.3" cy="304.0" rx="0.75" ry="0.65" fill="none" stroke="#2020e0" stroke-width="0.5"/>
<ellipse cx="241.3" cy="306.6" rx="0.75" ry="0.65" fill="none" stroke="#2020e0" stroke-width="0.5"/>
<ellipse cx="241.3" cy="309.2" rx="0.75" ry="0.65" fill="none" stroke="#2020e0" stroke-width="0.5"/>
<ellipse cx="241.3" cy="311.8" rx="0.90" ry="0.75" fill="#2a2ae0" stroke="#0c0cc8" stroke-width="0.4"/>
<ellipse cx="241.3" cy="314.4" rx="0.90" ry="0.75" fill="#2a2ae0" stroke="#0c0cc8" stroke-width="0.4"/>
<ellipse cx="241.3" cy="317.0" rx="0.90" ry="0.75" fill="#2a2ae0" stroke="#0c0cc8" stroke-width="0.4"/>
<ellipse cx="241.3" cy="327.4" rx="0.90" ry="0.75" fill="#2a2ae0" stroke="#0c0cc8" stroke-width="0.4"/>
<ellipse cx="241.3" cy="330.0" rx="0.90" ry="0.75" fill="#2a2ae0" stroke="#0c0cc8" stroke-width="0.4"/>
<ellipse cx="241.3" cy="332.6" rx="0.75" ry="0.65" fill="none" stroke="#2020e0" stroke-width="0.5"/>
<ellipse cx="241.3" cy="335.2" rx="0.75" ry="0.65" fill="none" stroke="#2020e0" stroke-width="0.5"/>
<ellipse cx="241.3" cy="337.8" rx="0.75" ry="0.65" fill="none" stroke="#2020e0" stroke-width="0.5"/>
<ellipse cx="241.3" cy="340.4" rx="0.65" ry="0.55" fill="none" stroke="#6a6af0" stroke-width="0.4"/>
<ellipse cx="241.3" cy="343.0" rx="0.65" ry="0.55" fill="none" stroke="#6a6af0" stroke-width="0.4"/>
<ellipse cx="241.3" cy="345.6" rx="0.65" ry="0.55" fill="none" stroke="#6a6af0" stroke-width="0.4"/>
<ellipse cx="241.3" cy="348.2" rx="0.65" ry="0.55" fill="none" stroke="#6a6af0" stroke-width="0.4"/>
<ellipse cx="241.3" cy="350.8" rx="0.65" ry="0.55" fill="none" stroke="#6a6af0" stroke-width="0.4"/>
<ellipse cx="241.3" cy="314.8" rx="1.20" ry="2.60" fill="#0c0cd0" opacity="0.9"/>
<ellipse cx="241.3" cy="328.2" rx="1.20" ry="2.60" fill="#0c0cd0" opacity="0.9"/>
<polygon points="218.2,321.4 239,319.3 239,323.7 218.2,321.9" fill="url(#gL)"/>
<ellipse cx="219.0" cy="321.6" rx="1.10" ry="0.45" fill="none" stroke="#4848ee" stroke-width="0.4" opacity="0.9"/>
<ellipse cx="221.0" cy="321.6" rx="1.10" ry="0.63" fill="none" stroke="#4848ee" stroke-width="0.4" opacity="0.9"/>
<ellipse cx="223.0" cy="321.6" rx="1.10" ry="0.81" fill="none" stroke="#4848ee" stroke-width="0.4" opacity="0.9"/>
<ellipse cx="225.0" cy="321.6" rx="1.10" ry="0.99" fill="none" stroke="#4848ee" stroke-width="0.4" opacity="0.9"/>
<ellipse cx="227.0" cy="321.5" rx="1.10" ry="1.16" fill="none" stroke="#4848ee" stroke-width="0.4" opacity="0.9"/>
<ellipse cx="229.0" cy="321.5" rx="1.10" ry="1.34" fill="none" stroke="#4848ee" stroke-width="0.4" opacity="0.9"/>
<ellipse cx="231.0" cy="321.5" rx="1.10" ry="1.52" fill="none" stroke="#4848ee" stroke-width="0.4" opacity="0.9"/>
<ellipse cx="233.0" cy="321.5" rx="1.10" ry="1.70" fill="none" stroke="#4848ee" stroke-width="0.4" opacity="0.9"/>
<polygon points="243.5,319.6 251.8,321.4 243.5,323.4" fill="url(#gR)"/>
<ellipse cx="246.0" cy="321.4" rx="1.38" ry="1.20" fill="none" stroke="#4848ee" stroke-width="0.4" opacity="0.9"/>
<ellipse cx="248.5" cy="321.4" rx="1.38" ry="0.85" fill="none" stroke="#4848ee" stroke-width="0.4" opacity="0.9"/>
<ellipse cx="251.0" cy="321.4" rx="1.38" ry="0.50" fill="none" stroke="#4848ee" stroke-width="0.4" opacity="0.9"/>
<ellipse cx="241.0" cy="317.0" rx="3.60" ry="0.35" fill="#3030e0"/>
<ellipse cx="241.0" cy="326.0" rx="3.60" ry="0.35" fill="#3030e0"/>
<ellipse cx="241.3" cy="321.4" rx="2.80" ry="3.60" fill="#0606d0"/>
<ellipse cx="241.3" cy="321.4" rx="1.95" ry="2.69" fill="#0060ff"/>
<ellipse cx="241.3" cy="321.4" rx="1.50" ry="2.40" fill="#10d0ff"/>
<ellipse cx="241.3" cy="321.4" rx="1.30" ry="2.10" fill="#80f080"/>
<ellipse cx="241.3" cy="321.4" rx="1.10" ry="1.80" fill="#f4ec10"/>
<ellipse cx="241.5" cy="321.4" rx="0.60" ry="1.10" fill="#f41c08"/>
</g>
<rect x="180.4" y="278.5" width="121.7" height="89.6" class="ax"/>
<path d="M204.2 368.1v-1.2M204.2 278.5v1.2" class="tk"/>
<text transform="translate(204.2 376.8) scale(0.9 1)" class="tl" text-anchor="middle">200</text>
<path d="M227.9 368.1v-1.2M227.9 278.5v1.2" class="tk"/>
<text transform="translate(227.9 376.8) scale(0.9 1)" class="tl" text-anchor="middle">400</text>
<path d="M251.7 368.1v-1.2M251.7 278.5v1.2" class="tk"/>
<text transform="translate(251.7 376.8) scale(0.9 1)" class="tl" text-anchor="middle">600</text>
<path d="M275.5 368.1v-1.2M275.5 278.5v1.2" class="tk"/>
<text transform="translate(275.5 376.8) scale(0.9 1)" class="tl" text-anchor="middle">800</text>
<path d="M299.2 368.1v-1.2M299.2 278.5v1.2" class="tk"/>
<text transform="translate(299.2 376.8) scale(0.9 1)" class="tl" text-anchor="middle">1000</text>
<path d="M180.4 368.1h1.2M302.1 368.1h-1.2" class="tk"/>
<text transform="translate(178.1 370.6) scale(0.9 1)" class="tl" text-anchor="end">100</text>
<path d="M180.4 353.2h1.2M302.1 353.2h-1.2" class="tk"/>
<text transform="translate(178.1 355.7) scale(0.9 1)" class="tl" text-anchor="end">150</text>
<path d="M180.4 338.2h1.2M302.1 338.2h-1.2" class="tk"/>
<text transform="translate(178.1 340.7) scale(0.9 1)" class="tl" text-anchor="end">200</text>
<path d="M180.4 323.3h1.2M302.1 323.3h-1.2" class="tk"/>
<text transform="translate(178.1 325.8) scale(0.9 1)" class="tl" text-anchor="end">250</text>
<path d="M180.4 308.4h1.2M302.1 308.4h-1.2" class="tk"/>
<text transform="translate(178.1 310.9) scale(0.9 1)" class="tl" text-anchor="end">300</text>
<path d="M180.4 293.4h1.2M302.1 293.4h-1.2" class="tk"/>
<text transform="translate(178.1 295.9) scale(0.9 1)" class="tl" text-anchor="end">350</text>
<path d="M180.4 278.5h1.2M302.1 278.5h-1.2" class="tk"/>
<text transform="translate(178.1 281) scale(0.9 1)" class="tl" text-anchor="end">400</text>
<text x="241.2" y="385.1" class="al" text-anchor="middle">Azimuth (samples)</text>
<text transform="translate(164.8 323.3) rotate(-90) scale(1.0 1)" class="al" text-anchor="middle">Range (samples)</text>
<text transform="translate(241.2 275.6) scale(0.86 1)" class="ti" text-anchor="middle">the center of the scene</text>
<text x="251.1" y="404" class="lb" text-anchor="middle">(h)</text>
<g filter="url(#soft)">
<ellipse cx="393.7" cy="308.2" rx="0.50" ry="0.45" fill="#1818e0" stroke="#1818e0" stroke-width="0.5"/>
<ellipse cx="393.7" cy="311.0" rx="0.50" ry="0.45" fill="#1818e0" stroke="#1818e0" stroke-width="0.5"/>
<ellipse cx="393.7" cy="313.8" rx="0.50" ry="0.45" fill="#1818e0" stroke="#1818e0" stroke-width="0.5"/>
<ellipse cx="393.7" cy="328.8" rx="0.50" ry="0.45" fill="#1818e0" stroke="#1818e0" stroke-width="0.5"/>
<ellipse cx="393.7" cy="331.6" rx="0.50" ry="0.45" fill="#1818e0" stroke="#1818e0" stroke-width="0.5"/>
<ellipse cx="393.7" cy="334.4" rx="0.50" ry="0.45" fill="#1818e0" stroke="#1818e0" stroke-width="0.5"/>
<ellipse cx="393.7" cy="315.9" rx="1.40" ry="1.00" fill="#0c0cc8"/>
<ellipse cx="393.7" cy="326.6" rx="1.50" ry="0.90" fill="#0c0cc8"/>
<polygon points="371.3,322.4 391.5,318.6 391.5,325.2 371.3,323.9" fill="url(#gL)"/>
<ellipse cx="372.0" cy="323.1" rx="0.96" ry="0.60" fill="none" stroke="#4848ee" stroke-width="0.4" opacity="0.9"/>
<ellipse cx="373.8" cy="323.0" rx="0.96" ry="0.79" fill="none" stroke="#4848ee" stroke-width="0.4" opacity="0.9"/>
<ellipse cx="375.5" cy="322.9" rx="0.96" ry="0.97" fill="none" stroke="#4848ee" stroke-width="0.4" opacity="0.9"/>
<ellipse cx="377.2" cy="322.8" rx="0.96" ry="1.16" fill="none" stroke="#4848ee" stroke-width="0.4" opacity="0.9"/>
<ellipse cx="379.0" cy="322.7" rx="0.96" ry="1.35" fill="none" stroke="#4848ee" stroke-width="0.4" opacity="0.9"/>
<ellipse cx="380.8" cy="322.6" rx="0.96" ry="1.54" fill="none" stroke="#4848ee" stroke-width="0.4" opacity="0.9"/>
<ellipse cx="382.5" cy="322.5" rx="0.96" ry="1.73" fill="none" stroke="#4848ee" stroke-width="0.4" opacity="0.9"/>
<ellipse cx="384.2" cy="322.4" rx="0.96" ry="1.91" fill="none" stroke="#4848ee" stroke-width="0.4" opacity="0.9"/>
<ellipse cx="386.0" cy="322.3" rx="0.96" ry="2.10" fill="none" stroke="#4848ee" stroke-width="0.4" opacity="0.9"/>
<polygon points="395.5,318.8 405.4,320.6 395.5,323.8" fill="url(#gR)"/>
<ellipse cx="398.5" cy="321.2" rx="1.10" ry="1.30" fill="none" stroke="#4848ee" stroke-width="0.4" opacity="0.9"/>
<ellipse cx="400.5" cy="321.1" rx="1.10" ry="1.03" fill="none" stroke="#4848ee" stroke-width="0.4" opacity="0.9"/>
<ellipse cx="402.5" cy="320.9" rx="1.10" ry="0.77" fill="none" stroke="#4848ee" stroke-width="0.4" opacity="0.9"/>
<ellipse cx="404.5" cy="320.8" rx="1.10" ry="0.50" fill="none" stroke="#4848ee" stroke-width="0.4" opacity="0.9"/>
<ellipse cx="393.7" cy="321.4" rx="3.20" ry="5.00" fill="#0606d0"/>
<ellipse cx="393.7" cy="321.4" rx="2.27" ry="3.58" fill="#0060ff"/>
<ellipse cx="393.7" cy="321.4" rx="1.75" ry="3.20" fill="#10d0ff"/>
<ellipse cx="393.7" cy="321.4" rx="1.48" ry="2.75" fill="#80f080"/>
<ellipse cx="393.7" cy="321.4" rx="1.20" ry="2.30" fill="#f4ec10"/>
<ellipse cx="393.8" cy="321.4" rx="0.80" ry="1.45" fill="#f41c08"/>
</g>
<rect x="332.7" y="278.6" width="121.4" height="89.5" class="ax"/>
<path d="M356.4 368.1v-1.2M356.4 278.6v1.2" class="tk"/>
<text transform="translate(356.4 376.8) scale(0.9 1)" class="tl" text-anchor="middle">200</text>
<path d="M380.1 368.1v-1.2M380.1 278.6v1.2" class="tk"/>
<text transform="translate(380.1 376.8) scale(0.9 1)" class="tl" text-anchor="middle">400</text>
<path d="M403.8 368.1v-1.2M403.8 278.6v1.2" class="tk"/>
<text transform="translate(403.8 376.8) scale(0.9 1)" class="tl" text-anchor="middle">600</text>
<path d="M427.5 368.1v-1.2M427.5 278.6v1.2" class="tk"/>
<text transform="translate(427.5 376.8) scale(0.9 1)" class="tl" text-anchor="middle">800</text>
<path d="M451.3 368.1v-1.2M451.3 278.6v1.2" class="tk"/>
<text transform="translate(451.3 376.8) scale(0.9 1)" class="tl" text-anchor="middle">1000</text>
<path d="M332.7 368.1h1.2M454.1 368.1h-1.2" class="tk"/>
<text transform="translate(330.4 370.6) scale(0.9 1)" class="tl" text-anchor="end">100</text>
<path d="M332.7 353.2h1.2M454.1 353.2h-1.2" class="tk"/>
<text transform="translate(330.4 355.7) scale(0.9 1)" class="tl" text-anchor="end">150</text>
<path d="M332.7 338.3h1.2M454.1 338.3h-1.2" class="tk"/>
<text transform="translate(330.4 340.8) scale(0.9 1)" class="tl" text-anchor="end">200</text>
<path d="M332.7 323.4h1.2M454.1 323.4h-1.2" class="tk"/>
<text transform="translate(330.4 325.9) scale(0.9 1)" class="tl" text-anchor="end">250</text>
<path d="M332.7 308.4h1.2M454.1 308.4h-1.2" class="tk"/>
<text transform="translate(330.4 310.9) scale(0.9 1)" class="tl" text-anchor="end">300</text>
<path d="M332.7 293.5h1.2M454.1 293.5h-1.2" class="tk"/>
<text transform="translate(330.4 296) scale(0.9 1)" class="tl" text-anchor="end">350</text>
<path d="M332.7 278.6h1.2M454.1 278.6h-1.2" class="tk"/>
<text transform="translate(330.4 281.1) scale(0.9 1)" class="tl" text-anchor="end">400</text>
<text x="393.4" y="385.1" class="al" text-anchor="middle">Azimuth (samples)</text>
<text transform="translate(317.1 323.4) rotate(-90) scale(1.0 1)" class="al" text-anchor="middle">Range (samples)</text>
<text transform="translate(393.4 275.7) scale(0.86 1)" class="ti" text-anchor="middle">the right end of the scene</text>
<text x="399.3" y="404" class="lb" text-anchor="middle">(i)</text>
<line x1="55.1" y1="410.6" x2="55.1" y2="501.8" class="gr"/>
<line x1="85.8" y1="410.6" x2="85.8" y2="501.8" class="gr"/>
<line x1="116.5" y1="410.6" x2="116.5" y2="501.8" class="gr"/>
<line x1="24.4" y1="425.8" x2="147.2" y2="425.8" class="gr"/>
<line x1="24.4" y1="441" x2="147.2" y2="441" class="gr"/>
<line x1="24.4" y1="456.2" x2="147.2" y2="456.2" class="gr"/>
<line x1="24.4" y1="471.4" x2="147.2" y2="471.4" class="gr"/>
<line x1="24.4" y1="486.6" x2="147.2" y2="486.6" class="gr"/>
<polyline points="24.6,484.7 25.0,482.6 25.4,486.1 25.7,497.2 25.9,501.8 26.2,497.1 26.5,487.3 26.9,485.3 27.2,488.8 27.6,499.7 27.8,495.9 28.0,496.7 28.3,489.6 28.7,488.1 29.1,490.2 29.4,496.6 29.6,500.3 29.9,501.3 30.2,491.8 30.6,489.7 30.9,492.9 31.3,501.0 31.5,501.6 31.7,501.8 32.0,495.7 32.4,495.0 32.7,497.3 33.1,501.8 33.3,499.4 33.5,499.7 33.8,497.6 34.2,497.5 34.6,498.3 34.9,499.5 35.2,501.2 35.4,501.3 35.7,500.2 36.1,500.3 36.4,500.9 36.8,501.2 37.0,501.8 37.2,501.8 37.5,499.5 37.9,498.2 38.2,498.7 38.6,501.8 38.9,500.4 39.1,500.7 39.4,496.8 39.8,495.2 40.1,496.0 40.5,500.9 40.7,497.7 40.9,498.1 41.3,494.0 41.6,492.4 42.0,493.2 42.3,498.3 42.5,495.3 42.8,495.6 43.1,491.9 43.5,490.3 43.8,491.0 44.2,495.8 44.4,492.3 44.6,492.7 44.9,488.3 45.3,486.5 45.7,487.3 46.0,493.0 46.3,489.6 46.5,490.0 46.8,485.1 47.2,483.0 47.5,483.9 47.9,490.3 48.0,485.1 48.3,485.5 48.6,481.1 49.0,479.1 49.3,479.9 49.7,485.7 49.9,481.4 50.1,481.8 50.5,477.7 50.8,475.9 51.2,476.7 51.5,482.0 51.8,478.7 52.0,479.1 52.3,474.7 52.7,472.9 53.0,473.8 53.4,479.3 53.6,476.3 53.8,476.7 54.1,472.3 54.5,470.7 54.9,471.6 55.2,476.9 55.4,473.5 55.6,473.9 56.0,469.7 56.3,468.1 56.7,469.0 57.0,474.0 57.2,472.7 57.4,473.3 57.8,467.8 58.1,465.9 58.5,467.1 58.8,473.4 59.1,472.5 59.3,473.2 59.6,466.3 60.0,464.0 60.3,465.6 60.7,473.3 60.9,471.4 61.1,472.1 61.4,464.7 61.8,462.2 62.1,463.9 62.5,472.3 62.7,471.9 62.9,472.9 63.2,462.5 63.6,459.3 64.0,461.8 64.3,471.9 64.5,470.5 64.7,471.4 65.1,461.3 65.4,458.3 65.8,460.8 66.1,470.9 66.4,469.7 66.6,470.2 66.9,459.5 67.3,456.4 67.7,458.9 68.0,469.0 68.3,469.6 68.5,468.2 68.8,457.5 69.2,454.4 69.5,456.8 69.9,466.9 70.0,467.9 70.3,466.7 70.6,456.0 71.0,452.9 71.3,455.2 71.7,465.2 71.9,468.9 72.2,464.9 72.5,454.1 72.9,450.8 73.2,453.2 73.6,463.2 73.8,466.5 74.0,462.7 74.3,451.9 74.7,448.7 75.1,451.0 75.4,461.0 75.6,469.2 75.8,459.9 76.1,449.1 76.5,445.8 76.9,448.2 77.2,458.2 77.4,468.7 77.7,457.6 78.0,446.8 78.4,443.5 78.7,445.6 79.1,455.5 79.3,465.5 79.5,454.9 79.9,443.9 80.2,440.5 80.6,442.7 80.9,452.5 81.1,463.0 81.4,451.8 81.7,440.8 82.1,436.7 82.4,437.9 82.8,447.0 82.9,462.4 83.2,445.2 83.5,433.4 83.9,428.1 84.2,428.1 84.6,436.0 84.7,435.2 85.0,433.1 85.3,420.3 85.7,415.3 86.0,415.8 86.4,410.6 86.6,416.3 86.9,416.5 87.2,416.0 87.6,418.2 87.9,421.4 88.3,424.5 88.5,442.8 88.7,441.2 89.0,433.8 89.4,433.3 89.8,436.9 90.1,443.3 90.3,449.5 90.5,450.4 90.9,443.3 91.2,442.5 91.6,445.0 91.9,450.0 92.2,455.3 92.4,456.1 92.7,448.9 93.1,448.0 93.5,450.5 93.8,455.7 94.0,460.8 94.2,461.6 94.5,453.7 94.9,452.5 95.3,455.1 95.6,461.3 95.8,465.3 96.0,466.2 96.3,458.4 96.7,457.2 97.1,459.8 97.4,465.9 97.6,469.8 97.8,470.7 98.1,462.3 98.5,460.8 98.9,463.5 99.2,470.4 99.4,474.6 99.6,475.5 99.9,466.7 100.3,465.1 100.7,467.9 101.0,475.3 101.2,478.7 101.4,479.7 101.7,470.3 102.1,468.5 102.5,471.5 102.8,479.4 103.1,483.1 103.3,484.0 103.6,474.6 104.0,472.9 104.4,475.8 104.7,483.8 104.9,484.9 105.1,485.8 105.5,478.0 105.8,476.7 106.2,479.2 106.5,485.5 106.8,489.7 107.0,490.6 107.3,482.4 107.7,481.0 108.1,483.6 108.4,490.3 108.6,492.1 108.8,492.9 109.1,485.5 109.5,484.1 109.9,486.3 110.2,492.7 110.4,494.0 110.6,494.7 111.0,488.4 111.3,487.3 111.7,489.2 112.0,494.5 112.3,496.2 112.5,496.8 112.8,490.7 113.2,489.7 113.6,491.7 113.9,496.7 114.2,498.4 114.4,498.9 114.7,493.6 115.1,492.8 115.4,494.6 115.8,498.7 116.0,500.9 116.2,501.4 116.5,496.4 116.9,495.4 117.3,496.8 117.6,501.3 117.8,501.8 118.0,501.8 118.4,498.1 118.7,497.1 119.1,498.5 119.4,501.8 119.6,501.8 119.8,501.8 120.1,498.5 120.5,497.6 120.9,498.9 121.2,501.8 121.5,501.8 121.7,501.8 122.0,497.5 122.4,495.6 122.8,496.7 123.1,501.8 123.3,501.8 123.5,501.8 123.9,496.1 124.2,493.3 124.6,494.9 124.9,501.8 125.1,501.8 125.3,501.8 125.6,493.0 126.0,489.4 126.4,491.3 126.7,501.0 126.9,501.0 127.2,500.0 127.5,489.1 127.9,485.8 128.2,488.2 128.6,498.1 128.7,501.8 129.0,497.9 129.3,487.1 129.7,483.9 130.0,486.2 130.4,496.2 130.6,501.8 130.8,495.3 131.1,484.5 131.5,481.3 131.9,483.6 132.2,493.6 132.4,501.8 132.6,492.9 132.9,482.2 133.3,479.2 133.7,481.7 134.0,491.9 134.2,501.8 134.4,491.9 134.7,481.3 135.1,478.2 135.5,480.7 135.8,490.9 136.0,501.8 136.2,490.5 136.5,479.9 136.9,476.8 137.3,479.4 137.6,489.5 137.8,501.8 138.0,489.1 138.3,478.5 138.7,475.5 139.1,478.1 139.4,488.3 139.7,501.8 139.9,488.2 140.2,477.6 140.6,474.6 141.0,477.2 141.3,487.4 141.5,501.8 141.8,487.0 142.1,476.5 142.5,473.4 142.8,476.0 143.2,486.2 143.3,499.8 143.6,485.9 143.9,475.4 144.3,472.4 144.6,475.1 145.0,485.3 145.2,501.8 145.4,485.7 145.7,475.2 146.1,472.2 146.5,474.9 146.8,485.1 147.0,501.8" class="ln"/>
<rect x="24.4" y="410.6" width="122.8" height="91.2" class="ax"/>
<path d="M24.4 501.8v-1.2M24.4 410.6v1.2" class="tk"/>
<text transform="translate(24.4 510.5) scale(0.9 1)" class="tl" text-anchor="middle">0</text>
<path d="M55.1 501.8v-1.2M55.1 410.6v1.2" class="tk"/>
<text transform="translate(55.1 510.5) scale(0.9 1)" class="tl" text-anchor="middle">500</text>
<path d="M85.8 501.8v-1.2M85.8 410.6v1.2" class="tk"/>
<text transform="translate(85.8 510.5) scale(0.9 1)" class="tl" text-anchor="middle">1000</text>
<path d="M116.5 501.8v-1.2M116.5 410.6v1.2" class="tk"/>
<text transform="translate(116.5 510.5) scale(0.9 1)" class="tl" text-anchor="middle">1500</text>
<path d="M147.2 501.8v-1.2M147.2 410.6v1.2" class="tk"/>
<text transform="translate(147.2 510.5) scale(0.9 1)" class="tl" text-anchor="middle">2000</text>
<path d="M24.4 410.6h1.2M147.2 410.6h-1.2" class="tk"/>
<text transform="translate(22.7 413.1) scale(0.9 1)" class="tl" text-anchor="end">0</text>
<path d="M24.4 425.8h1.2M147.2 425.8h-1.2" class="tk"/>
<text transform="translate(22.7 428.3) scale(0.9 1)" class="tl" text-anchor="end">-10</text>
<path d="M24.4 441h1.2M147.2 441h-1.2" class="tk"/>
<text transform="translate(22.7 443.5) scale(0.9 1)" class="tl" text-anchor="end">-20</text>
<path d="M24.4 456.2h1.2M147.2 456.2h-1.2" class="tk"/>
<text transform="translate(22.7 458.7) scale(0.9 1)" class="tl" text-anchor="end">-30</text>
<path d="M24.4 471.4h1.2M147.2 471.4h-1.2" class="tk"/>
<text transform="translate(22.7 473.9) scale(0.9 1)" class="tl" text-anchor="end">-40</text>
<path d="M24.4 486.6h1.2M147.2 486.6h-1.2" class="tk"/>
<text transform="translate(22.7 489.1) scale(0.9 1)" class="tl" text-anchor="end">-50</text>
<path d="M24.4 501.8h1.2M147.2 501.8h-1.2" class="tk"/>
<text transform="translate(22.7 504.3) scale(0.9 1)" class="tl" text-anchor="end">-60</text>
<text x="85.8" y="518.8" class="al" text-anchor="middle">Azimuth (samples)</text>
<text transform="translate(11.1 457.4) rotate(-90) scale(0.97 1)" class="al" text-anchor="middle">Amplitude(dB)</text>
<text x="90.6" y="543.3" class="lb" text-anchor="middle">(j)</text>
<line x1="211.1" y1="410.6" x2="211.1" y2="502.4" class="gr"/>
<line x1="241.8" y1="410.6" x2="241.8" y2="502.4" class="gr"/>
<line x1="272.4" y1="410.6" x2="272.4" y2="502.4" class="gr"/>
<line x1="180.4" y1="425.9" x2="303.1" y2="425.9" class="gr"/>
<line x1="180.4" y1="441.2" x2="303.1" y2="441.2" class="gr"/>
<line x1="180.4" y1="456.5" x2="303.1" y2="456.5" class="gr"/>
<line x1="180.4" y1="471.8" x2="303.1" y2="471.8" class="gr"/>
<line x1="180.4" y1="487.1" x2="303.1" y2="487.1" class="gr"/>
<polyline points="180.8,482.2 181.1,485.3 181.5,495.9 181.7,502.4 181.9,495.7 182.2,485.4 182.6,482.8 183.0,485.8 183.3,496.5 183.5,502.4 183.7,496.4 184.1,486.2 184.4,483.7 184.8,486.8 185.1,497.5 185.4,502.4 185.6,498.5 185.9,488.3 186.3,485.5 186.7,488.3 187.0,498.8 187.2,502.4 187.4,498.3 187.7,487.9 188.1,485.1 188.5,487.9 188.8,498.3 189.0,502.4 189.2,498.9 189.6,488.2 189.9,485.1 190.3,487.6 190.6,497.8 190.9,502.4 191.1,497.1 191.4,486.3 191.8,483.2 192.2,485.7 192.5,495.9 192.7,502.4 192.9,495.6 193.2,484.8 193.6,481.6 194.0,484.1 194.3,494.2 194.5,502.4 194.7,493.8 195.0,483.0 195.4,479.8 195.8,482.3 196.1,492.4 196.3,502.4 196.5,492.1 196.9,481.3 197.2,478.1 197.6,480.5 197.9,490.6 198.1,502.4 198.4,489.9 198.7,479.0 199.1,475.8 199.4,478.2 199.8,488.3 200.0,502.4 200.2,487.6 200.5,476.8 200.9,473.6 201.3,476.1 201.6,486.2 201.8,502.4 202.0,485.5 202.4,474.7 202.7,471.5 203.1,474.0 203.4,484.1 203.7,502.4 203.9,483.7 204.2,472.9 204.6,469.6 205.0,472.0 205.3,482.0 205.6,502.4 205.8,481.3 206.1,470.4 206.5,467.2 206.8,469.5 207.2,479.6 207.4,502.4 207.7,479.5 208.0,468.6 208.4,465.5 208.7,468.0 209.1,478.2 209.2,502.4 209.5,477.4 209.8,466.7 210.2,463.6 210.5,466.1 210.9,476.3 211.0,502.4 211.3,476.1 211.6,465.3 212.0,462.2 212.3,464.7 212.7,474.9 212.8,502.4 213.1,475.2 213.4,464.5 213.8,461.5 214.1,464.0 214.5,474.2 214.7,501.8 214.9,473.2 215.2,462.6 215.6,459.5 215.9,462.0 216.3,472.3 216.5,502.4 216.7,472.4 217.1,461.7 217.4,458.6 217.8,461.1 218.1,471.4 218.4,501.1 218.6,471.3 218.9,460.6 219.3,457.6 219.7,460.2 220.0,470.4 220.3,502.4 220.5,469.5 220.8,458.8 221.2,455.7 221.5,458.3 221.9,468.6 222.1,496.7 222.4,467.9 222.7,457.2 223.1,454.1 223.4,456.7 223.8,466.9 224.0,493.1 224.2,467.5 224.5,456.8 224.9,453.6 225.2,456.1 225.6,466.3 225.8,491.9 226.0,465.5 226.4,454.7 226.7,451.6 227.1,454.1 227.4,464.3 227.7,488.9 227.9,463.4 228.2,452.7 228.6,449.6 228.9,452.0 229.3,462.1 229.4,486.9 229.7,462.3 230.0,451.4 230.4,448.1 230.7,450.4 231.1,460.5 231.3,492.0 231.5,459.4 231.9,448.5 232.2,445.2 232.6,447.5 232.9,457.6 233.1,491.7 233.4,457.1 233.7,446.2 234.1,442.9 234.4,445.2 234.8,455.0 235.0,493.2 235.2,454.1 235.5,442.9 235.9,439.3 236.3,441.4 236.6,451.1 236.9,496.2 237.1,450.1 237.4,438.9 237.8,435.3 238.2,437.3 238.5,447.0 238.8,479.3 239.0,445.8 239.3,434.5 239.7,430.8 240.1,432.7 240.4,441.1 240.6,442.0 240.8,437.5 241.2,423.9 241.5,417.5 241.9,417.5 242.2,426.2 242.5,410.6 242.7,417.1 243.1,413.8 243.4,414.6 243.8,417.6 244.1,421.0 244.3,442.8 244.5,438.2 244.9,431.3 245.2,432.3 245.6,435.8 245.9,443.4 246.2,495.1 246.4,450.1 246.8,440.9 247.1,439.4 247.5,443.6 247.8,455.1 248.1,491.8 248.3,456.9 248.6,447.5 249.0,445.8 249.3,449.8 249.7,461.4 249.9,500.8 250.1,462.2 250.4,452.8 250.8,451.2 251.2,455.1 251.5,466.4 251.7,496.9 251.9,467.6 252.3,457.9 252.6,455.9 253.0,459.5 253.3,470.7 253.6,496.4 253.8,471.7 254.1,461.9 254.5,459.9 254.9,463.6 255.2,474.5 255.4,502.4 255.6,475.0 256.0,465.0 256.3,462.7 256.7,466.1 257.0,477.0 257.2,498.3 257.4,478.2 257.8,468.2 258.1,465.9 258.5,469.3 258.8,480.2 259.1,497.0 259.3,480.6 259.6,470.6 260.0,468.3 260.4,471.6 260.7,482.4 260.9,501.0 261.1,483.1 261.5,473.0 261.8,470.5 262.2,473.7 262.5,484.5 262.7,499.7 263.0,484.8 263.3,474.7 263.7,472.2 264.0,475.4 264.4,486.2 264.5,499.5 264.8,486.2 265.1,476.0 265.5,473.6 265.8,476.7 266.2,487.4 266.4,501.8 266.6,487.7 266.9,477.5 267.3,474.9 267.7,478.0 268.0,488.7 268.3,501.2 268.5,489.4 268.8,479.1 269.2,476.6 269.6,479.6 269.9,490.3 270.1,502.2 270.3,490.6 270.6,480.4 271.0,477.9 271.4,480.9 271.7,491.7 271.9,502.4 272.1,492.2 272.5,482.0 272.8,479.5 273.2,482.6 273.5,493.4 273.8,501.1 274.0,493.4 274.4,483.2 274.7,480.7 275.1,483.8 275.4,494.6 275.7,502.4 275.9,494.3 276.2,484.1 276.6,481.6 276.9,484.7 277.3,495.6 277.5,502.4 277.7,496.4 278.1,486.3 278.4,483.9 278.8,487.1 279.1,498.0 279.4,502.4 279.6,498.7 279.9,488.6 280.3,486.2 280.6,489.5 281.0,500.3 281.2,502.4 281.5,501.4 281.8,491.3 282.2,488.9 282.5,492.2 282.9,502.4 283.1,502.4 283.3,502.4 283.6,494.4 284.0,492.3 284.3,495.7 284.7,502.4 284.9,502.4 285.1,502.4 285.4,497.1 285.8,495.7 286.2,497.6 286.5,502.4 286.7,502.4 287.0,502.4 287.3,497.0 287.7,494.0 288.0,496.4 288.4,502.4 288.5,502.4 288.8,502.4 289.1,494.7 289.5,491.5 289.8,493.9 290.1,502.4 290.4,502.4 290.6,502.4 290.9,493.1 291.3,489.9 291.7,492.4 292.0,502.4 292.2,502.4 292.4,501.9 292.8,491.1 293.1,487.9 293.5,490.4 293.8,500.5 294.0,502.4 294.3,500.4 294.6,489.6 295.0,486.5 295.3,488.9 295.7,499.1 295.9,502.4 296.2,498.7 296.5,487.9 296.8,484.7 297.2,487.2 297.5,497.3 297.8,502.4 298.0,497.0 298.3,486.2 298.7,483.1 299.1,485.5 299.4,495.7 299.6,502.4 299.9,494.7 300.2,483.9 300.6,480.8 300.9,483.3 301.3,493.4 301.4,502.4 301.7,493.4 302.0,482.7 302.4,479.5 302.7,482.0 303.1,492.1" class="ln"/>
<rect x="180.4" y="410.6" width="122.7" height="91.8" class="ax"/>
<path d="M180.4 502.4v-1.2M180.4 410.6v1.2" class="tk"/>
<text transform="translate(180.4 511.1) scale(0.9 1)" class="tl" text-anchor="middle">0</text>
<path d="M211.1 502.4v-1.2M211.1 410.6v1.2" class="tk"/>
<text transform="translate(211.1 511.1) scale(0.9 1)" class="tl" text-anchor="middle">500</text>
<path d="M241.8 502.4v-1.2M241.8 410.6v1.2" class="tk"/>
<text transform="translate(241.8 511.1) scale(0.9 1)" class="tl" text-anchor="middle">1000</text>
<path d="M272.4 502.4v-1.2M272.4 410.6v1.2" class="tk"/>
<text transform="translate(272.4 511.1) scale(0.9 1)" class="tl" text-anchor="middle">1500</text>
<path d="M303.1 502.4v-1.2M303.1 410.6v1.2" class="tk"/>
<text transform="translate(303.1 511.1) scale(0.9 1)" class="tl" text-anchor="middle">2000</text>
<path d="M180.4 410.6h1.2M303.1 410.6h-1.2" class="tk"/>
<text transform="translate(178.7 413.1) scale(0.9 1)" class="tl" text-anchor="end">0</text>
<path d="M180.4 425.9h1.2M303.1 425.9h-1.2" class="tk"/>
<text transform="translate(178.7 428.4) scale(0.9 1)" class="tl" text-anchor="end">-10</text>
<path d="M180.4 441.2h1.2M303.1 441.2h-1.2" class="tk"/>
<text transform="translate(178.7 443.7) scale(0.9 1)" class="tl" text-anchor="end">-20</text>
<path d="M180.4 456.5h1.2M303.1 456.5h-1.2" class="tk"/>
<text transform="translate(178.7 459) scale(0.9 1)" class="tl" text-anchor="end">-30</text>
<path d="M180.4 471.8h1.2M303.1 471.8h-1.2" class="tk"/>
<text transform="translate(178.7 474.3) scale(0.9 1)" class="tl" text-anchor="end">-40</text>
<path d="M180.4 487.1h1.2M303.1 487.1h-1.2" class="tk"/>
<text transform="translate(178.7 489.6) scale(0.9 1)" class="tl" text-anchor="end">-50</text>
<path d="M180.4 502.4h1.2M303.1 502.4h-1.2" class="tk"/>
<text transform="translate(178.7 504.9) scale(0.9 1)" class="tl" text-anchor="end">-60</text>
<text x="241.8" y="519.4" class="al" text-anchor="middle">Azimuth (samples)</text>
<text transform="translate(167.1 457.7) rotate(-90) scale(0.97 1)" class="al" text-anchor="middle">Amplitude(dB)</text>
<text x="251.1" y="543" class="lb" text-anchor="middle">(k)</text>
<line x1="366.9" y1="414.8" x2="366.9" y2="506.3" class="gr"/>
<line x1="397.4" y1="414.8" x2="397.4" y2="506.3" class="gr"/>
<line x1="427.9" y1="414.8" x2="427.9" y2="506.3" class="gr"/>
<line x1="336.4" y1="430.1" x2="458.4" y2="430.1" class="gr"/>
<line x1="336.4" y1="445.3" x2="458.4" y2="445.3" class="gr"/>
<line x1="336.4" y1="460.6" x2="458.4" y2="460.6" class="gr"/>
<line x1="336.4" y1="475.8" x2="458.4" y2="475.8" class="gr"/>
<line x1="336.4" y1="491.1" x2="458.4" y2="491.1" class="gr"/>
<polyline points="336.5,483.3 336.9,486.8 337.2,497.9 337.5,504.7 337.7,498.7 338.0,488.9 338.4,486.8 338.7,490.2 339.1,501.3 339.2,506.3 339.5,502.5 339.8,492.7 340.1,490.5 340.5,494.0 340.8,505.0 341.0,506.0 341.2,505.0 341.6,494.9 341.9,492.5 342.3,495.7 342.6,506.3 342.9,502.5 343.1,503.2 343.4,497.2 343.8,497.4 344.2,499.9 344.5,502.7 344.8,506.3 345.0,506.3 345.3,502.8 345.7,500.9 346.0,502.3 346.4,506.3 346.5,506.3 346.8,506.3 347.1,501.8 347.5,500.3 347.8,501.8 348.2,506.3 348.4,505.9 348.6,506.3 348.9,501.9 349.3,500.7 349.7,501.9 350.0,506.3 350.2,505.5 350.5,505.9 350.8,501.1 351.2,499.7 351.5,501.1 351.9,505.9 352.1,504.9 352.3,505.3 352.7,501.1 353.0,499.9 353.4,501.1 353.7,505.3 353.9,503.5 354.1,503.8 354.5,500.6 354.8,499.6 355.2,500.3 355.5,503.8 355.8,502.7 356.0,503.0 356.3,499.6 356.7,498.2 357.1,498.3 357.4,503.2 357.6,500.4 357.8,500.8 358.1,495.5 358.5,493.0 358.8,493.8 359.2,501.2 359.4,495.2 359.6,495.6 360.0,491.2 360.3,489.4 360.7,490.3 361.0,495.8 361.2,492.0 361.4,492.4 361.8,487.9 362.1,486.2 362.5,487.1 362.8,492.6 363.0,488.8 363.2,489.2 363.6,485.2 363.9,483.6 364.3,484.5 364.6,489.4 364.9,487.0 365.1,487.4 365.4,483.1 365.8,481.4 366.2,482.4 366.5,487.5 366.7,484.1 367.0,484.5 367.3,480.0 367.7,478.1 368.0,479.0 368.3,484.7 368.5,482.3 368.7,482.9 369.1,476.8 369.4,474.5 369.8,475.8 370.1,483.1 370.4,479.2 370.6,479.7 371.0,474.0 371.3,471.9 371.7,473.2 372.0,479.9 372.2,477.7 372.5,478.3 372.8,472.0 373.2,469.8 373.5,471.2 373.9,478.5 374.1,476.9 374.3,477.7 374.7,469.8 375.0,467.2 375.4,469.1 375.7,477.8 376.0,475.1 376.2,475.9 376.5,467.2 376.9,464.4 377.2,466.5 377.6,476.1 377.8,476.3 378.0,475.8 378.4,465.0 378.7,461.7 379.1,464.0 379.4,474.0 379.7,475.6 379.9,474.7 380.2,463.8 380.6,460.5 381.0,462.8 381.3,472.9 381.5,473.5 381.7,471.9 382.0,461.2 382.4,458.0 382.8,460.4 383.1,470.6 383.3,474.0 383.5,469.8 383.9,459.1 384.2,455.9 384.6,458.4 384.9,468.5 385.1,472.3 385.4,468.2 385.7,457.5 386.1,454.3 386.4,456.8 386.8,466.8 387.0,474.1 387.2,465.8 387.5,455.0 387.9,451.7 388.3,454.0 388.6,464.0 388.9,470.5 389.1,463.7 389.4,452.8 389.8,449.5 390.1,451.8 390.5,461.8 390.7,468.4 391.0,460.8 391.3,449.9 391.7,446.6 392.0,448.9 392.3,458.4 392.6,470.5 392.8,457.6 393.1,446.2 393.5,442.3 393.9,444.0 394.2,453.5 394.5,461.2 394.7,451.5 395.0,440.1 395.4,436.2 395.8,437.2 396.1,444.9 396.3,446.4 396.5,441.5 396.9,428.4 397.2,422.5 397.6,422.7 397.9,431.1 398.1,421.9 398.4,414.8 398.7,417.8 399.0,418.5 399.4,420.7 399.7,423.0 399.9,437.9 400.1,438.8 400.4,431.6 400.8,433.3 401.2,436.8 401.5,438.0 401.7,451.1 401.9,452.1 402.3,443.1 402.6,442.3 403.0,445.6 403.3,451.6 403.5,458.3 403.7,459.3 404.1,450.4 404.4,449.1 404.8,452.0 405.1,458.9 405.4,463.4 405.6,464.3 405.9,455.9 406.3,454.7 406.6,457.6 407.0,464.0 407.1,467.1 407.3,467.9 407.7,460.8 408.0,459.8 408.4,462.2 408.7,467.6 408.9,473.6 409.2,474.6 409.5,465.3 409.9,463.7 410.2,466.7 410.6,474.3 410.8,476.0 411.0,476.8 411.3,469.3 411.7,468.3 412.0,470.8 412.4,476.5 412.5,482.5 412.8,483.5 413.1,474.5 413.5,473.0 413.8,475.9 414.2,483.2 414.4,485.2 414.6,486.0 414.9,478.2 415.3,476.8 415.6,479.3 416.0,485.8 416.2,490.7 416.4,491.6 416.8,482.4 417.1,480.7 417.5,483.6 417.8,491.4 418.1,492.6 418.3,493.4 418.6,485.9 419.0,484.6 419.3,487.1 419.7,493.2 419.8,496.0 420.1,496.8 420.4,489.9 420.8,488.9 421.1,491.1 421.4,496.5 421.6,500.0 421.9,500.8 422.2,493.7 422.6,492.5 422.9,494.7 423.2,500.5 423.4,502.8 423.6,503.6 424.0,496.4 424.3,495.1 424.7,497.4 425.0,503.4 425.2,505.9 425.4,506.3 425.8,499.9 426.1,498.8 426.5,501.0 426.8,506.3 427.0,506.3 427.2,506.3 427.6,502.7 427.9,501.7 428.3,503.5 428.6,506.3 428.8,506.3 429.0,506.3 429.3,504.8 429.7,503.9 430.1,505.5 430.4,506.3 430.6,506.3 430.8,506.3 431.1,506.3 431.5,506.1 431.9,506.3 432.2,506.3 432.4,506.3 432.6,506.3 432.9,506.3 433.3,506.3 433.6,506.3 434.0,506.3 434.2,506.3 434.4,506.3 434.7,506.3 435.1,506.3 435.5,506.3 435.8,506.3 436.0,506.3 436.2,506.3 436.5,506.3 436.9,505.4 437.3,506.3 437.6,506.3 437.8,506.3 438.1,506.3 438.4,504.9 438.8,503.0 439.1,504.1 439.5,506.3 439.7,506.3 439.9,506.3 440.2,502.9 440.6,500.3 441.0,501.8 441.3,506.3 441.5,506.3 441.8,506.3 442.1,500.0 442.5,496.7 442.8,498.8 443.2,506.3 443.4,506.3 443.6,506.3 443.9,495.9 444.3,492.4 444.7,494.5 445.0,504.3 445.2,506.3 445.4,504.2 445.7,493.5 446.1,490.3 446.4,492.7 446.8,502.9 447.0,506.3 447.2,501.8 447.5,491.1 447.9,487.9 448.2,490.4 448.6,500.5 448.8,506.3 449.0,500.4 449.3,489.7 449.7,486.5 450.1,489.0 450.4,499.1 450.6,506.3 450.9,498.4 451.2,487.7 451.5,484.5 451.9,486.9 452.2,497.1 452.4,504.9 452.7,497.2 453.0,486.4 453.4,483.3 453.7,485.7 454.1,495.8 454.3,501.0 454.5,495.2 454.8,484.5 455.2,481.3 455.6,483.8 455.9,493.9 456.1,495.7 456.3,493.6 456.6,482.5 457.0,479.0 457.4,481.0 457.7,490.8 457.9,492.2 458.2,489.8" class="ln"/>
<rect x="336.4" y="414.8" width="122" height="91.5" class="ax"/>
<path d="M336.4 506.3v-1.2M336.4 414.8v1.2" class="tk"/>
<text transform="translate(336.4 515) scale(0.9 1)" class="tl" text-anchor="middle">0</text>
<path d="M366.9 506.3v-1.2M366.9 414.8v1.2" class="tk"/>
<text transform="translate(366.9 515) scale(0.9 1)" class="tl" text-anchor="middle">500</text>
<path d="M397.4 506.3v-1.2M397.4 414.8v1.2" class="tk"/>
<text transform="translate(397.4 515) scale(0.9 1)" class="tl" text-anchor="middle">1000</text>
<path d="M427.9 506.3v-1.2M427.9 414.8v1.2" class="tk"/>
<text transform="translate(427.9 515) scale(0.9 1)" class="tl" text-anchor="middle">1500</text>
<path d="M458.4 506.3v-1.2M458.4 414.8v1.2" class="tk"/>
<text transform="translate(458.4 515) scale(0.9 1)" class="tl" text-anchor="middle">2000</text>
<path d="M336.4 414.8h1.2M458.4 414.8h-1.2" class="tk"/>
<text transform="translate(334.7 417.3) scale(0.9 1)" class="tl" text-anchor="end">0</text>
<path d="M336.4 430.1h1.2M458.4 430.1h-1.2" class="tk"/>
<text transform="translate(334.7 432.6) scale(0.9 1)" class="tl" text-anchor="end">-10</text>
<path d="M336.4 445.3h1.2M458.4 445.3h-1.2" class="tk"/>
<text transform="translate(334.7 447.8) scale(0.9 1)" class="tl" text-anchor="end">-20</text>
<path d="M336.4 460.6h1.2M458.4 460.6h-1.2" class="tk"/>
<text transform="translate(334.7 463.1) scale(0.9 1)" class="tl" text-anchor="end">-30</text>
<path d="M336.4 475.8h1.2M458.4 475.8h-1.2" class="tk"/>
<text transform="translate(334.7 478.3) scale(0.9 1)" class="tl" text-anchor="end">-40</text>
<path d="M336.4 491.1h1.2M458.4 491.1h-1.2" class="tk"/>
<text transform="translate(334.7 493.6) scale(0.9 1)" class="tl" text-anchor="end">-50</text>
<path d="M336.4 506.3h1.2M458.4 506.3h-1.2" class="tk"/>
<text transform="translate(334.7 508.8) scale(0.9 1)" class="tl" text-anchor="end">-60</text>
<text x="397.4" y="523.3" class="al" text-anchor="middle">Azimuth (samples)</text>
<text transform="translate(323.1 461.8) rotate(-90) scale(0.97 1)" class="al" text-anchor="middle">Amplitude(dB)</text>
<text x="399.3" y="543.3" class="lb" text-anchor="middle">(l)</text>
</svg>
</body></html>
